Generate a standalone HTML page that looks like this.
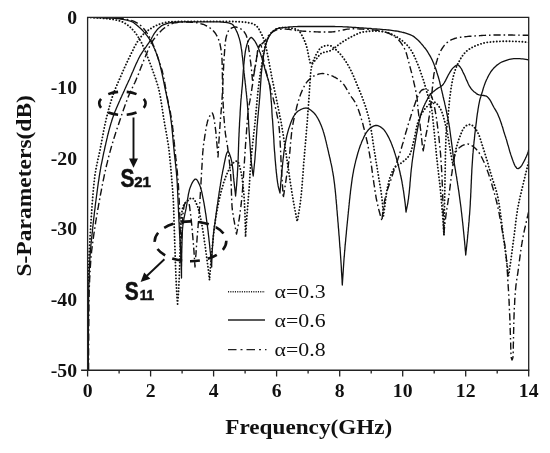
<!DOCTYPE html><html><head><meta charset="utf-8"><title>S-Parameters</title><style>html,body{margin:0;padding:0;background:#fff}svg{display:block;filter:blur(0.35px)}</style></head><body><svg width="550" height="453" viewBox="0 0 550 453">
<rect width="550" height="453" fill="#fff"/>
<clipPath id="c"><rect x="87.6" y="17.4" width="441.1" height="352.8"/></clipPath>
<g clip-path="url(#c)" fill="none" stroke="#111" stroke-width="1.3" stroke-linejoin="round">
<path d="M87.6,17.4L89.1,17.4L90.6,17.5L92.1,17.5L93.7,17.6L95.2,17.7L96.7,17.8L98.2,17.9L99.7,18.0L101.2,18.2L102.7,18.3L104.2,18.4L105.7,18.6L107.2,18.7L108.7,18.9L110.3,19.1L111.8,19.3L113.3,19.5L114.8,19.8L116.3,20.1L117.7,20.4L119.2,20.8L120.5,21.2L121.9,21.7L123.3,22.3L124.7,23.1L126.0,23.9L127.3,24.8L128.5,25.8L129.6,26.7L130.7,27.6L131.8,28.7L132.8,29.8L133.8,30.9L134.8,32.1L135.7,33.3L136.6,34.6L137.5,35.9L138.3,37.2L139.1,38.5L139.9,39.8L140.6,41.1L141.3,42.4L142.0,43.7L142.6,45.1L143.3,46.4L143.9,47.8L144.5,49.2L145.1,50.6L145.6,52.0L146.2,53.5L146.8,54.9L147.3,56.3L147.9,57.7L148.4,59.1L149.0,60.5L149.5,61.9L150.1,63.3L150.6,64.7L151.2,66.1L151.7,67.6L152.2,69.0L152.7,70.4L153.2,71.8L153.7,73.3L154.2,74.7L154.7,76.1L155.2,77.5L155.7,79.0L156.1,80.4L156.6,81.9L157.1,83.3L157.5,84.7L158.0,86.2L158.4,87.6L158.8,89.1L159.1,90.6L159.4,92.0L159.7,93.5L160.0,95.0L160.3,96.5L160.6,97.9L160.8,99.4L161.1,100.9L161.3,102.4L161.5,103.9L161.8,105.4L162.0,106.9L162.2,108.4L162.4,109.9L162.7,111.4L162.9,112.9L163.1,114.4L163.3,115.9L163.6,117.4L163.8,118.9L164.1,120.4L164.3,121.9L164.6,123.3L164.8,124.8L165.1,126.3L165.4,127.8L165.6,129.3L165.9,130.8L166.2,132.3L166.5,133.8L166.7,135.3L167.0,136.7L167.2,138.2L167.5,139.7L167.7,141.2L168.0,142.7L168.2,144.2L168.4,145.7L168.6,147.2L168.8,148.7L169.0,150.2L169.2,151.7L169.4,153.2L169.5,154.7L169.7,156.2L169.8,157.7L170.0,159.2L170.1,160.7L170.3,162.2L170.4,163.7L170.6,165.2L170.7,166.7L170.8,168.2L170.9,169.7L171.1,171.2L171.2,172.7L171.3,174.2L171.5,175.7L171.6,177.3L171.7,178.8L171.8,180.3L171.9,181.8L172.1,183.3L172.2,184.8L172.3,186.3L172.5,187.8L172.6,189.3L172.7,190.8L172.8,192.3L172.9,193.8L173.0,195.3L173.1,196.8L173.2,198.3L173.3,199.9L173.4,201.4L173.4,202.9L173.5,204.4L173.6,205.9L173.6,207.4L173.7,208.9L173.7,210.4L173.8,211.9L173.8,213.4L173.9,214.9L173.9,216.5L174.0,218.0L174.0,219.5L174.0,221.0L174.1,222.5L174.1,224.0L174.2,225.5L174.2,227.0L174.3,228.5L174.3,230.0L174.4,231.6L174.4,233.1L174.5,234.6L174.5,236.1L174.6,237.6L174.6,239.1L174.7,240.6L174.7,242.1L174.8,243.6L174.8,245.2L174.9,246.7L174.9,248.2L175.0,249.7L175.0,251.2L175.1,252.7L175.1,254.2L175.2,255.7L175.2,257.2L175.3,258.7L175.3,260.3L175.4,261.8L175.4,263.3L175.5,264.8L175.5,266.3L175.6,267.8L175.7,269.3L175.7,270.8L175.8,272.3L175.8,273.8L175.9,275.3L176.0,276.9L176.0,278.4L176.1,279.9L176.2,281.4L176.2,282.9L176.3,284.4L176.4,285.9L176.5,287.4L176.5,288.9L176.6,290.4L176.7,291.9L176.8,293.5L176.9,295.0L177.0,296.5L177.1,298.0L177.2,299.5L177.3,301.0L177.5,302.5L177.6,304.0L177.7,302.5L177.8,301.0L178.0,299.5L178.1,298.0L178.2,296.5L178.3,295.0L178.4,293.4L178.5,291.9L178.6,290.4L178.7,288.9L178.7,287.4L178.8,285.9L178.9,284.4L179.0,282.9L179.0,281.4L179.1,279.9L179.2,278.3L179.2,276.8L179.3,275.3L179.4,273.8L179.4,272.3L179.5,270.8L179.5,269.3L179.6,267.8L179.6,266.3L179.7,264.7L179.7,263.2L179.8,261.7L179.8,260.2L179.9,258.7L179.9,257.2L179.9,255.7L180.0,254.2L180.0,252.7L180.1,251.1L180.1,249.6L180.1,248.1L180.2,246.6L180.2,245.1L180.3,243.6L180.3,242.1L180.4,240.6L180.4,239.1L180.5,237.5L180.5,236.0L180.6,234.5L180.6,233.0L180.6,231.5L180.7,230.0L180.7,228.5L180.8,226.9L180.8,225.4L180.9,223.9L181.0,222.4L181.0,220.9L181.1,219.4L181.2,217.9L181.3,216.4L181.5,214.9L181.7,213.3L181.9,211.8L182.2,210.3L182.5,208.8L182.9,207.4L183.3,206.1L184.0,204.7L184.9,203.3L185.8,202.1L186.9,201.0L188.0,200.0L189.3,199.1L190.8,198.3L192.0,198.0L193.1,198.4L194.1,199.4L195.1,200.9L195.9,202.5L196.6,204.1L197.2,205.5L197.7,206.8L198.2,208.2L198.6,209.7L199.0,211.1L199.4,212.6L199.8,214.1L200.1,215.6L200.4,217.1L200.7,218.6L201.0,220.1L201.3,221.6L201.6,223.1L201.9,224.6L202.1,226.1L202.4,227.5L202.6,229.0L202.9,230.5L203.1,232.0L203.3,233.5L203.6,235.0L203.8,236.5L204.0,238.0L204.2,239.5L204.4,241.0L204.6,242.5L204.9,244.0L205.1,245.5L205.3,247.0L205.5,248.5L205.7,250.0L205.9,251.5L206.1,253.0L206.3,254.5L206.5,256.0L206.7,257.5L206.9,259.0L207.1,260.5L207.3,262.0L207.5,263.5L207.7,265.0L207.9,266.5L208.1,268.0L208.3,269.5L208.5,271.0L208.6,272.5L208.8,274.0L209.0,275.5L209.2,277.0L209.3,278.5L209.5,280.0L209.6,278.5L209.7,277.0L209.8,275.5L209.9,273.9L210.1,272.4L210.2,270.9L210.3,269.4L210.4,267.9L210.5,266.4L210.7,264.9L210.8,263.4L210.9,261.8L211.1,260.3L211.2,258.8L211.3,257.3L211.5,255.8L211.6,254.3L211.7,252.8L211.9,251.3L212.0,249.8L212.2,248.2L212.3,246.7L212.5,245.2L212.6,243.7L212.8,242.2L212.9,240.7L213.1,239.2L213.2,237.7L213.4,236.2L213.6,234.7L213.7,233.1L213.9,231.6L214.1,230.1L214.3,228.6L214.5,227.1L214.6,225.6L214.8,224.1L215.1,222.6L215.3,221.1L215.5,219.6L215.7,218.1L216.0,216.6L216.2,215.1L216.5,213.6L216.7,212.1L217.0,210.6L217.3,209.1L217.6,207.6L217.9,206.1L218.2,204.7L218.5,203.2L218.8,201.7L219.1,200.2L219.4,198.7L219.8,197.3L220.1,195.8L220.5,194.3L220.8,192.8L221.2,191.4L221.6,189.9L222.0,188.4L222.4,187.0L222.9,185.5L223.3,184.0L223.7,182.6L224.2,181.2L224.7,179.7L225.2,178.3L225.7,176.9L226.3,175.4L226.9,174.0L227.5,172.6L228.1,171.3L228.7,169.9L229.4,168.5L230.1,167.1L230.9,165.7L231.7,164.4L232.7,163.3L233.8,162.4L235.4,161.5L236.7,161.0L237.6,161.3L238.3,162.3L238.9,164.0L239.4,165.8L239.9,167.5L240.3,169.0L240.6,170.5L241.0,171.9L241.3,173.4L241.6,174.9L241.8,176.4L242.1,177.9L242.3,179.4L242.5,180.9L242.7,182.5L242.9,184.0L243.0,185.5L243.2,187.0L243.3,188.5L243.5,190.0L243.6,191.5L243.7,193.0L243.9,194.5L244.0,196.0L244.1,197.6L244.2,199.1L244.3,200.6L244.4,202.1L244.5,203.6L244.6,205.1L244.6,206.7L244.7,208.2L244.8,209.7L244.9,211.2L244.9,212.7L245.0,214.2L245.0,215.8L245.1,217.3L245.1,218.8L245.2,220.3L245.2,221.8L245.3,223.3L245.3,224.9L245.3,226.4L245.4,227.9L245.4,229.4L245.4,230.9L245.5,232.4L245.5,234.0L245.5,235.5L245.5,237.0L245.6,235.5L245.7,234.0L245.8,232.5L245.9,231.0L246.0,229.5L246.1,228.0L246.2,226.5L246.3,225.0L246.4,223.5L246.5,222.0L246.6,220.5L246.7,218.9L246.8,217.4L246.9,215.9L247.0,214.4L247.2,212.9L247.3,211.4L247.4,209.9L247.5,208.4L247.6,206.9L247.8,205.4L247.9,203.9L248.0,202.4L248.1,200.9L248.3,199.4L248.4,197.9L248.5,196.4L248.6,194.9L248.7,193.4L248.9,191.9L249.0,190.4L249.1,188.9L249.2,187.4L249.3,185.9L249.4,184.4L249.5,182.9L249.6,181.4L249.7,179.9L249.8,178.4L249.9,176.8L249.9,175.3L250.0,173.8L250.1,172.3L250.2,170.8L250.3,169.3L250.4,167.8L250.5,166.3L250.6,164.8L250.7,163.3L250.9,161.8L251.0,160.3L251.1,158.8L251.2,157.3L251.4,155.8L251.5,154.3L251.7,152.8L251.8,151.3L252.0,149.8L252.1,148.3L252.3,146.8L252.5,145.3L252.6,143.8L252.8,142.3L253.0,140.8L253.1,139.3L253.3,137.8L253.5,136.3L253.7,134.8L253.8,133.3L254.0,131.8L254.2,130.3L254.3,128.8L254.5,127.3L254.7,125.8L254.8,124.3L255.0,122.8L255.1,121.3L255.3,119.8L255.4,118.3L255.6,116.8L255.7,115.3L255.8,113.8L256.0,112.3L256.1,110.8L256.2,109.3L256.4,107.8L256.5,106.3L256.7,104.8L256.8,103.3L256.9,101.8L257.1,100.3L257.2,98.8L257.4,97.3L257.5,95.8L257.7,94.3L257.8,92.8L258.0,91.3L258.2,89.8L258.3,88.3L258.5,86.8L258.7,85.3L258.9,83.8L259.1,82.3L259.3,80.8L259.5,79.3L259.7,77.8L259.9,76.4L260.1,74.9L260.4,73.4L260.6,71.9L260.8,70.4L261.1,68.9L261.3,67.4L261.6,65.9L261.8,64.4L262.1,63.0L262.3,61.5L262.6,60.0L262.8,58.5L263.1,57.0L263.3,55.5L263.6,54.0L263.8,52.5L264.1,51.0L264.4,49.5L264.7,48.0L265.0,46.6L265.4,45.1L265.8,43.7L266.2,42.3L266.7,40.8L267.3,39.4L267.9,37.9L268.6,36.5L269.4,35.2L270.2,34.0L271.1,32.9L272.1,31.9L273.3,30.9L274.6,30.0L275.9,29.1L277.4,28.5L278.8,28.0L280.2,27.8L281.7,27.6L283.2,27.5L284.8,27.5L286.3,27.6L287.8,27.8L289.3,27.9L290.8,28.1L292.2,28.4L293.7,28.7L295.2,29.0L296.7,29.4L297.9,30.0L299.0,31.0L300.0,32.2L300.9,33.6L301.7,35.0L302.4,36.2L303.1,37.6L303.7,38.9L304.4,40.3L304.9,41.7L305.5,43.2L306.0,44.6L306.4,46.1L306.9,47.5L307.2,48.9L307.6,50.4L307.9,51.9L308.1,53.4L308.4,54.9L308.7,56.4L309.0,57.8L309.3,59.3L309.7,60.9L310.2,62.7L310.8,63.9L311.6,63.7L312.8,62.7L314.1,61.5L315.2,60.4L316.2,59.2L317.2,57.9L318.2,56.6L319.1,55.4L320.2,54.3L321.2,53.4L322.4,52.8L323.8,52.4L325.3,52.0L326.8,51.7L328.4,51.3L329.8,50.9L331.1,50.3L332.4,49.6L333.6,48.7L334.8,47.8L336.0,46.8L337.2,45.9L338.4,44.9L339.6,43.9L340.9,43.1L342.1,42.3L343.4,41.4L344.7,40.6L346.0,39.8L347.3,39.1L348.6,38.3L349.9,37.6L351.2,36.9L352.6,36.2L353.9,35.5L355.3,34.8L356.7,34.2L358.1,33.5L359.5,32.9L360.9,32.5L362.3,32.1L363.8,31.9L365.3,31.7L366.8,31.5L368.3,31.3L369.8,31.2L371.3,31.1L372.8,31.0L374.3,31.0L375.8,31.0L377.4,31.1L378.9,31.2L380.4,31.4L381.9,31.6L383.4,31.8L384.8,32.0L386.3,32.3L387.7,32.7L389.2,33.2L390.6,33.7L392.0,34.4L393.4,35.1L394.7,35.8L396.0,36.5L397.3,37.2L398.6,38.0L399.8,38.9L401.1,39.8L402.3,40.7L403.5,41.7L404.6,42.7L405.7,43.7L406.8,44.8L407.8,45.9L408.8,47.0L409.7,48.2L410.6,49.5L411.4,50.7L412.2,52.0L412.9,53.3L413.6,54.7L414.2,56.0L414.9,57.4L415.5,58.8L416.1,60.2L416.6,61.6L417.2,63.0L417.8,64.4L418.3,65.8L418.9,67.2L419.4,68.6L419.9,70.0L420.4,71.4L420.9,72.9L421.4,74.3L421.9,75.7L422.4,77.1L422.9,78.6L423.4,80.0L423.8,81.4L424.3,82.9L424.7,84.3L425.1,85.8L425.6,87.2L426.0,88.7L426.3,90.1L426.7,91.6L427.1,93.0L427.6,94.5L428.0,95.9L428.5,97.4L429.0,98.8L429.5,100.2L430.0,101.6L430.5,103.1L430.9,104.5L431.2,106.0L431.4,107.4L431.7,108.9L431.9,110.4L432.1,111.9L432.3,113.4L432.5,114.9L432.6,116.4L432.8,117.9L432.9,119.4L433.1,120.9L433.2,122.4L433.4,123.9L433.5,125.4L433.7,126.9L433.8,128.4L434.0,129.9L434.2,131.4L434.3,132.9L434.5,134.4L434.6,135.9L434.8,137.4L434.9,138.9L435.1,140.4L435.2,141.9L435.4,143.4L435.5,144.9L435.7,146.4L435.8,147.9L435.9,149.4L436.1,151.0L436.2,152.5L436.4,154.0L436.5,155.5L436.7,157.0L436.8,158.5L437.0,160.0L437.2,161.5L437.3,162.9L437.5,164.4L437.7,165.9L437.8,167.4L438.0,168.9L438.2,170.4L438.4,171.9L438.5,173.4L438.7,174.9L438.9,176.4L439.1,177.9L439.3,179.4L439.4,180.9L439.6,182.4L439.8,183.9L439.9,185.4L440.1,186.9L440.2,188.4L440.4,189.9L440.5,191.4L440.7,192.9L440.8,194.4L441.0,195.9L441.1,197.4L441.2,198.9L441.4,200.4L441.5,201.9L441.6,203.4L441.8,204.9L441.9,206.4L442.0,207.9L442.1,209.4L442.3,210.9L442.4,212.4L442.5,213.9L442.6,215.4L442.8,216.9L442.9,218.4L443.0,220.0L443.1,221.5L443.2,223.0L443.3,224.5L443.4,226.0L443.5,227.5L443.6,229.0L443.7,230.5L443.8,232.0L443.9,233.5L444.0,235.0L444.0,233.5L444.0,232.0L444.1,230.5L444.1,229.0L444.1,227.4L444.1,225.9L444.2,224.4L444.2,222.9L444.2,221.4L444.2,219.9L444.3,218.4L444.3,216.9L444.3,215.4L444.4,213.9L444.4,212.3L444.4,210.8L444.4,209.3L444.5,207.8L444.5,206.3L444.5,204.8L444.5,203.3L444.6,201.8L444.6,200.3L444.6,198.8L444.7,197.2L444.7,195.7L444.7,194.2L444.7,192.7L444.8,191.2L444.8,189.7L444.8,188.2L444.9,186.7L444.9,185.2L444.9,183.7L445.0,182.1L445.0,180.6L445.0,179.1L445.0,177.6L445.1,176.1L445.1,174.6L445.1,173.1L445.2,171.6L445.2,170.1L445.2,168.6L445.2,167.0L445.3,165.5L445.3,164.0L445.3,162.5L445.3,161.0L445.4,159.5L445.4,158.0L445.4,156.5L445.4,155.0L445.5,153.4L445.5,151.9L445.5,150.4L445.6,148.9L445.6,147.4L445.7,145.9L445.7,144.4L445.8,142.9L445.8,141.4L445.9,139.9L445.9,138.4L446.0,136.8L446.0,135.3L446.1,133.8L446.2,132.3L446.4,130.8L446.5,129.3L446.7,127.8L446.9,126.3L447.1,124.8L447.3,123.3L447.5,121.8L447.6,120.3L447.8,118.8L448.0,117.3L448.1,115.8L448.2,114.3L448.4,112.8L448.5,111.3L448.6,109.8L448.8,108.3L448.9,106.8L449.0,105.3L449.2,103.8L449.3,102.3L449.5,100.8L449.6,99.3L449.8,97.8L450.0,96.3L450.2,94.8L450.4,93.3L450.6,91.8L450.8,90.3L451.0,88.8L451.2,87.3L451.5,85.8L451.7,84.3L452.0,82.8L452.3,81.3L452.6,79.8L452.9,78.3L453.2,76.9L453.6,75.4L454.0,74.0L454.4,72.5L454.8,71.1L455.3,69.7L455.9,68.2L456.4,66.8L457.1,65.4L457.7,64.0L458.4,62.7L459.1,61.4L459.8,60.1L460.6,58.7L461.4,57.4L462.2,56.1L463.2,54.9L464.1,53.7L465.1,52.6L466.1,51.6L467.2,50.6L468.4,49.7L469.7,48.9L471.0,48.0L472.4,47.3L473.7,46.6L475.1,46.0L476.5,45.4L477.9,44.9L479.3,44.4L480.8,43.9L482.2,43.5L483.7,43.1L485.2,42.7L486.7,42.5L488.2,42.3L489.7,42.1L491.2,42.0L492.7,41.8L494.2,41.7L495.7,41.6L497.2,41.5L498.7,41.4L500.2,41.3L501.7,41.3L503.3,41.2L504.8,41.2L506.3,41.2L507.8,41.2L509.3,41.2L510.8,41.2L512.3,41.3L513.8,41.3L515.3,41.4L516.8,41.4L518.3,41.5L519.8,41.6L521.4,41.7L522.9,41.8L524.4,41.9L525.9,42.1L527.4,42.2L528.9,42.4" stroke-dasharray="0.1 3.1" stroke-width="1.85" stroke-linecap="round"/>
<path d="M88.0,370.0L88.0,368.5L88.0,367.0L88.0,365.5L88.0,364.0L88.0,362.5L88.0,361.0L88.0,359.5L88.0,358.0L88.0,356.5L88.0,355.0L88.0,353.5L88.0,352.0L88.0,350.5L88.0,348.9L88.0,347.4L88.0,345.9L88.0,344.4L88.0,342.9L88.0,341.4L88.0,339.9L88.0,338.4L88.0,336.9L88.1,335.4L88.1,333.9L88.1,332.4L88.1,330.9L88.1,329.4L88.1,327.9L88.1,326.4L88.1,324.9L88.1,323.4L88.1,321.9L88.1,320.4L88.1,318.9L88.1,317.4L88.1,315.9L88.1,314.4L88.1,312.9L88.1,311.4L88.2,309.9L88.2,308.3L88.2,306.8L88.2,305.3L88.2,303.8L88.2,302.3L88.2,300.8L88.2,299.3L88.2,297.8L88.2,296.3L88.2,294.8L88.3,293.3L88.3,291.8L88.3,290.3L88.3,288.8L88.3,287.3L88.4,285.8L88.4,284.3L88.4,282.8L88.5,281.3L88.5,279.8L88.5,278.3L88.6,276.8L88.6,275.3L88.6,273.8L88.7,272.3L88.7,270.8L88.7,269.3L88.8,267.8L88.8,266.3L88.9,264.7L88.9,263.2L88.9,261.7L89.0,260.2L89.0,258.7L89.1,257.2L89.1,255.7L89.2,254.2L89.3,252.7L89.3,251.2L89.4,249.7L89.5,248.2L89.6,246.7L89.6,245.2L89.7,243.7L89.8,242.2L89.9,240.7L90.0,239.2L90.1,237.7L90.1,236.2L90.2,234.7L90.3,233.2L90.4,231.7L90.5,230.2L90.6,228.7L90.7,227.2L90.7,225.7L90.8,224.2L90.9,222.7L91.0,221.2L91.1,219.7L91.2,218.2L91.3,216.7L91.4,215.2L91.5,213.7L91.6,212.2L91.7,210.7L91.8,209.2L91.9,207.7L92.0,206.2L92.1,204.7L92.2,203.2L92.4,201.7L92.5,200.2L92.6,198.7L92.7,197.2L92.9,195.7L93.0,194.2L93.1,192.7L93.2,191.2L93.4,189.7L93.5,188.2L93.7,186.7L93.8,185.2L94.0,183.7L94.1,182.2L94.3,180.7L94.5,179.2L94.6,177.7L94.8,176.3L95.0,174.8L95.2,173.3L95.5,171.8L95.7,170.3L96.0,168.8L96.3,167.4L96.6,165.9L96.9,164.4L97.2,162.9L97.5,161.5L97.8,160.0L98.2,158.5L98.5,157.1L98.8,155.6L99.1,154.1L99.5,152.6L99.8,151.2L100.1,149.7L100.4,148.2L100.6,146.7L100.9,145.3L101.2,143.8L101.5,142.3L101.8,140.8L102.0,139.4L102.3,137.9L102.6,136.4L102.9,134.9L103.2,133.4L103.5,132.0L103.7,130.5L104.0,129.0L104.3,127.5L104.7,126.1L105.0,124.6L105.3,123.1L105.6,121.7L106.0,120.2L106.3,118.7L106.6,117.3L107.0,115.8L107.4,114.4L107.7,112.9L108.1,111.4L108.5,110.0L108.9,108.5L109.3,107.1L109.7,105.6L110.1,104.2L110.5,102.7L111.0,101.3L111.4,99.9L111.9,98.4L112.3,97.0L112.8,95.6L113.3,94.2L113.8,92.8L114.3,91.3L114.9,90.0L115.4,88.6L116.0,87.2L116.6,85.8L117.2,84.4L117.8,83.0L118.4,81.6L119.0,80.3L119.6,78.9L120.2,77.5L120.8,76.1L121.4,74.7L122.0,73.4L122.6,72.0L123.2,70.6L123.8,69.2L124.4,67.8L125.0,66.5L125.7,65.1L126.3,63.7L126.9,62.4L127.6,61.0L128.2,59.6L128.9,58.3L129.5,56.9L130.2,55.6L130.9,54.3L131.5,52.9L132.2,51.5L132.9,50.1L133.5,48.8L134.2,47.4L134.9,46.0L135.7,44.7L136.4,43.4L137.2,42.1L138.0,40.8L138.8,39.6L139.6,38.5L140.6,37.3L141.5,36.2L142.6,35.1L143.6,34.0L144.8,33.0L145.9,32.0L147.1,31.0L148.4,30.1L149.6,29.3L150.8,28.5L152.1,27.7L153.4,26.9L154.7,26.2L156.1,25.6L157.5,24.9L158.9,24.4L160.3,23.9L161.7,23.4L163.2,23.0L164.6,22.6L166.1,22.3L167.6,22.0L169.1,21.9L170.6,21.8L172.1,21.7L173.6,21.6L175.1,21.6L176.6,21.5L178.1,21.5L179.6,21.5L181.1,21.4L182.6,21.4L184.1,21.4L185.6,21.3L187.1,21.3L188.6,21.3L190.1,21.3L191.6,21.3L193.1,21.3L194.6,21.3L196.2,21.3L197.7,21.3L199.2,21.3L200.7,21.3L202.2,21.3L203.7,21.3L205.2,21.3L206.7,21.3L208.2,21.3L209.7,21.3L211.2,21.3L212.7,21.3L214.2,21.3L215.7,21.3L217.2,21.3L218.7,21.3L220.2,21.3L221.7,21.3L223.2,21.3L224.7,21.3L226.2,21.4L227.7,21.4L229.2,21.4L230.7,21.5L232.2,21.5L233.8,21.6L235.3,21.6L236.8,21.7L238.3,21.7L239.8,21.8L241.3,21.9L242.8,22.0L244.3,22.1L245.8,22.3L247.3,22.5L248.8,22.8L250.2,23.0L251.7,23.4L253.2,24.0L254.6,24.6L255.8,25.4L256.8,26.2L257.8,27.3L258.6,28.6L259.4,30.0L260.2,31.4L260.9,32.8L261.5,34.1L262.2,35.4L262.8,36.8L263.4,38.2L263.9,39.7L264.4,41.1L264.9,42.5L265.3,43.9L265.6,45.4L266.0,46.8L266.3,48.3L266.6,49.8L266.9,51.3L267.2,52.7L267.5,54.2L267.8,55.7L268.1,57.2L268.3,58.7L268.6,60.1L268.9,61.6L269.2,63.1L269.5,64.6L269.8,66.1L270.1,67.5L270.3,69.0L270.6,70.5L270.9,72.0L271.2,73.4L271.4,74.9L271.7,76.4L272.0,77.9L272.3,79.4L272.6,80.8L272.9,82.3L273.2,83.8L273.5,85.2L273.8,86.7L274.1,88.2L274.4,89.7L274.7,91.1L275.0,92.6L275.4,94.1L275.7,95.5L276.0,97.0L276.3,98.5L276.6,100.0L276.9,101.4L277.2,102.9L277.5,104.4L277.8,105.8L278.1,107.3L278.4,108.8L278.7,110.3L279.0,111.7L279.3,113.2L279.6,114.7L279.9,116.2L280.2,117.6L280.5,119.1L280.8,120.6L281.1,122.1L281.3,123.5L281.6,125.0L281.8,126.5L282.1,128.0L282.3,129.5L282.6,131.0L282.8,132.4L283.1,133.9L283.3,135.4L283.5,136.9L283.8,138.4L284.0,139.9L284.2,141.4L284.4,142.8L284.7,144.3L284.9,145.8L285.1,147.3L285.3,148.8L285.5,150.3L285.8,151.8L286.0,153.3L286.2,154.7L286.4,156.2L286.7,157.7L286.9,159.2L287.1,160.7L287.3,162.2L287.6,163.7L287.8,165.1L288.0,166.6L288.2,168.1L288.5,169.6L288.7,171.1L288.9,172.6L289.1,174.1L289.3,175.6L289.6,177.0L289.8,178.5L290.0,180.0L290.2,181.5L290.4,183.0L290.7,184.5L290.9,186.0L291.1,187.5L291.4,188.9L291.6,190.4L291.8,191.9L292.1,193.4L292.3,194.9L292.6,196.4L292.8,197.8L293.1,199.3L293.3,200.8L293.6,202.3L293.8,203.8L294.1,205.3L294.4,206.7L294.6,208.2L294.9,209.7L295.2,211.2L295.5,212.6L295.8,214.1L296.0,215.6L296.3,217.1L296.6,218.5L296.9,220.0L297.2,221.5L297.5,220.0L297.8,218.5L298.0,217.1L298.3,215.6L298.6,214.1L298.8,212.6L299.1,211.1L299.3,209.6L299.6,208.1L299.8,206.6L300.0,205.2L300.2,203.7L300.4,202.2L300.6,200.7L300.8,199.2L300.9,197.7L301.1,196.2L301.3,194.7L301.4,193.2L301.5,191.7L301.7,190.2L301.8,188.7L301.9,187.2L302.1,185.7L302.2,184.2L302.3,182.7L302.4,181.2L302.5,179.7L302.6,178.2L302.7,176.7L302.9,175.2L303.0,173.7L303.1,172.2L303.2,170.7L303.3,169.2L303.4,167.7L303.5,166.2L303.6,164.7L303.7,163.2L303.9,161.7L304.0,160.2L304.1,158.7L304.2,157.2L304.4,155.7L304.5,154.2L304.6,152.7L304.8,151.2L304.9,149.7L305.0,148.2L305.1,146.7L305.3,145.2L305.4,143.7L305.5,142.2L305.7,140.7L305.8,139.2L305.9,137.7L306.0,136.1L306.2,134.6L306.3,133.1L306.4,131.6L306.5,130.1L306.7,128.6L306.8,127.1L306.9,125.6L307.0,124.1L307.1,122.6L307.3,121.1L307.4,119.6L307.5,118.1L307.6,116.6L307.7,115.1L307.8,113.6L307.9,112.1L308.0,110.6L308.1,109.1L308.2,107.6L308.3,106.1L308.5,104.6L308.6,103.1L308.7,101.6L308.8,100.1L308.9,98.6L309.0,97.1L309.1,95.6L309.2,94.1L309.3,92.6L309.4,91.1L309.5,89.6L309.6,88.1L309.7,86.6L309.8,85.1L309.9,83.6L310.0,82.0L310.1,80.5L310.2,79.0L310.3,77.5L310.4,76.0L310.5,74.5L310.7,73.0L310.8,71.5L311.0,70.1L311.2,68.6L311.5,67.1L311.9,65.6L312.3,64.2L312.8,62.7L313.2,61.3L313.7,59.9L314.3,58.5L314.9,57.1L315.5,55.7L316.2,54.4L317.0,53.1L317.8,51.8L318.6,50.4L319.6,49.1L320.6,48.0L321.7,47.1L323.0,46.6L324.4,46.0L326.0,45.6L327.5,45.4L328.9,45.3L330.2,45.6L331.6,46.2L332.9,47.1L334.2,48.1L335.4,49.2L336.6,50.3L337.7,51.4L338.7,52.4L339.8,53.5L340.7,54.6L341.7,55.7L342.6,56.9L343.5,58.1L344.4,59.4L345.3,60.7L346.1,62.0L346.9,63.3L347.7,64.6L348.5,65.9L349.2,67.2L349.9,68.5L350.6,69.8L351.3,71.2L351.9,72.5L352.5,73.9L353.2,75.3L353.8,76.7L354.3,78.1L354.9,79.5L355.5,80.9L356.1,82.3L356.6,83.7L357.2,85.1L357.8,86.5L358.4,87.9L358.9,89.3L359.5,90.7L360.1,92.0L360.7,93.4L361.2,94.8L361.8,96.2L362.4,97.6L362.9,99.1L363.4,100.5L363.9,101.9L364.4,103.3L364.9,104.7L365.4,106.1L365.8,107.6L366.3,109.0L366.7,110.5L367.1,111.9L367.6,113.4L368.0,114.8L368.3,116.3L368.7,117.7L369.1,119.2L369.4,120.7L369.7,122.1L370.0,123.6L370.3,125.1L370.6,126.6L370.8,128.0L371.1,129.5L371.3,131.0L371.6,132.5L371.8,134.0L372.0,135.5L372.3,137.0L372.5,138.5L372.7,140.0L372.9,141.5L373.1,142.9L373.4,144.4L373.6,145.9L373.8,147.4L374.0,148.9L374.3,150.4L374.5,151.9L374.8,153.4L375.0,154.9L375.3,156.3L375.5,157.8L375.7,159.3L376.0,160.8L376.2,162.3L376.5,163.8L376.7,165.3L377.0,166.7L377.2,168.2L377.4,169.7L377.7,171.2L377.9,172.7L378.2,174.2L378.4,175.7L378.6,177.2L378.9,178.6L379.1,180.1L379.4,181.6L379.6,183.1L379.9,184.6L380.1,186.1L380.4,187.6L380.6,189.0L380.9,190.5L381.1,192.0L381.3,193.5L381.5,195.0L381.7,196.5L381.9,198.0L382.1,199.5L382.2,201.0L382.4,202.5L382.5,204.0L382.6,205.5L382.8,207.0L382.9,208.5L383.0,210.0L383.1,211.5L383.2,213.0L383.3,214.5L383.4,216.0L383.6,214.5L383.8,213.0L384.1,211.5L384.3,210.0L384.5,208.5L384.7,207.0L384.9,205.5L385.1,204.0L385.3,202.5L385.5,201.0L385.7,199.5L385.9,198.0L386.1,196.5L386.3,195.0L386.5,193.5L386.7,192.0L386.9,190.5L387.2,189.0L387.5,187.5L387.8,186.0L388.1,184.5L388.5,183.0L388.9,181.4L389.3,179.9L389.7,178.3L390.2,176.8L390.7,175.3L391.2,173.9L391.8,172.5L392.4,171.2L393.1,169.9L393.8,168.8L394.5,167.7L395.6,166.7L396.8,165.8L398.1,165.0L399.4,164.1L400.8,163.3L402.1,162.4L403.3,161.4L404.4,160.4L405.7,159.4L406.8,158.3L407.9,157.2L408.8,156.1L409.6,154.9L410.2,153.6L410.7,152.3L411.2,150.9L411.6,149.4L412.0,147.9L412.4,146.4L412.8,144.9L413.1,143.4L413.5,141.8L413.8,140.3L414.2,138.9L414.5,137.4L414.9,135.9L415.2,134.4L415.5,132.9L415.7,131.4L416.0,129.9L416.3,128.4L416.7,126.9L417.0,125.5L417.4,124.0L417.8,122.6L418.3,121.2L418.8,119.8L419.4,118.3L420.0,116.9L420.7,115.5L421.4,114.1L422.2,112.8L423.0,111.5L423.9,110.3L424.7,109.1L425.7,108.0L426.8,106.8L428.0,105.5L429.2,104.4L430.5,103.3L431.8,102.6L433.1,102.1L434.2,102.0L435.4,102.5L436.6,103.5L437.7,104.8L438.8,106.2L439.7,107.6L440.5,108.9L441.1,110.2L441.7,111.6L442.2,113.0L442.7,114.4L443.2,115.9L443.6,117.4L444.0,118.9L444.4,120.4L444.8,121.9L445.2,123.3L445.5,124.8L445.9,126.3L446.2,127.8L446.5,129.2L446.9,130.7L447.2,132.2L447.5,133.7L447.7,135.2L448.0,136.7L448.3,138.2L448.5,139.6L448.8,141.1L449.0,142.6L449.2,144.1L449.5,145.6L449.7,147.1L449.9,148.6L450.2,150.1L450.5,151.6L450.7,153.1L451.0,154.6L451.3,156.1L451.5,157.6L451.8,159.1L452.1,160.5L452.4,162.0L452.7,163.5L453.0,165.0L453.2,163.5L453.4,162.0L453.6,160.5L453.8,159.0L454.1,157.5L454.4,156.0L454.7,154.5L455.0,153.0L455.4,151.5L455.7,150.1L456.1,148.6L456.5,147.1L456.9,145.7L457.3,144.2L457.7,142.8L458.1,141.3L458.6,139.9L459.2,138.5L459.8,137.0L460.3,135.5L460.9,133.9L461.6,132.4L462.2,130.8L462.9,129.4L463.7,128.2L464.6,127.1L465.5,126.2L466.6,125.5L468.1,124.9L469.6,124.5L470.9,124.7L472.2,125.4L473.5,126.4L474.6,127.7L475.6,129.0L476.4,130.1L477.1,131.3L477.8,132.6L478.4,133.9L479.0,135.3L479.6,136.7L480.1,138.2L480.6,139.7L481.1,141.2L481.5,142.7L482.0,144.2L482.4,145.7L482.9,147.2L483.4,148.6L483.9,150.1L484.3,151.5L484.8,152.9L485.2,154.4L485.7,155.8L486.1,157.3L486.5,158.7L487.0,160.2L487.4,161.6L487.8,163.1L488.2,164.6L488.6,166.0L489.0,167.5L489.4,168.9L489.9,170.4L490.3,171.8L490.7,173.3L491.1,174.8L491.6,176.2L492.1,177.6L492.5,179.1L493.0,180.5L493.5,182.0L493.9,183.4L494.4,184.9L494.9,186.3L495.3,187.8L495.8,189.2L496.2,190.7L496.6,192.1L497.0,193.6L497.4,195.0L497.7,196.5L498.0,198.0L498.3,199.5L498.6,200.9L498.8,202.4L499.1,203.9L499.3,205.4L499.5,206.9L499.8,208.4L500.0,209.9L500.2,211.4L500.4,212.9L500.6,214.4L500.8,215.9L501.0,217.4L501.2,218.9L501.4,220.4L501.6,221.9L501.8,223.4L501.9,224.9L502.1,226.4L502.3,227.9L502.5,229.4L502.7,230.9L502.9,232.5L503.0,234.0L503.2,235.5L503.4,237.0L503.6,238.5L503.8,240.0L504.0,241.5L504.2,243.0L504.4,244.5L504.6,246.0L504.8,247.5L505.0,249.0L505.2,250.5L505.4,252.0L505.6,253.5L505.8,255.0L506.0,256.5L506.2,258.0L506.4,259.5L506.6,261.0L506.8,262.5L507.0,264.0L507.2,265.5L507.4,267.0L507.6,268.5L507.7,270.0L507.9,271.5L508.1,273.0L508.3,274.5L508.5,276.0L508.7,274.5L509.0,273.0L509.2,271.4L509.4,269.9L509.7,268.4L509.9,266.9L510.1,265.4L510.3,263.8L510.6,262.3L510.8,260.8L511.0,259.3L511.2,257.7L511.4,256.2L511.6,254.7L511.8,253.2L512.0,251.6L512.2,250.1L512.4,248.6L512.6,247.1L512.8,245.5L513.0,244.0L513.2,242.5L513.4,241.0L513.6,239.4L513.8,237.9L514.0,236.4L514.2,234.8L514.4,233.3L514.6,231.8L514.8,230.3L515.0,228.7L515.2,227.2L515.4,225.7L515.5,224.2L515.7,222.6L515.9,221.1L516.1,219.6L516.3,218.1L516.5,216.5L516.7,215.0L516.9,213.5L517.2,212.0L517.4,210.4L517.6,208.9L517.9,207.4L518.2,205.9L518.5,204.4L518.8,202.9L519.1,201.4L519.4,199.9L519.8,198.4L520.1,196.9L520.5,195.4L520.8,193.9L521.2,192.4L521.5,190.9L521.9,189.4L522.3,187.9L522.6,186.4L523.0,184.9L523.3,183.4L523.7,181.9L524.0,180.4L524.4,178.9L524.8,177.4L525.1,175.9L525.5,174.4L525.9,172.9L526.2,171.4L526.6,169.9L527.0,168.4L527.4,167.0L527.7,165.5L528.1,164.0L528.5,162.5L528.9,161.0" stroke-dasharray="0.1 3.1" stroke-width="1.85" stroke-linecap="round"/>
<path d="M87.6,17.4L89.1,17.4L90.6,17.4L92.2,17.4L93.7,17.5L95.2,17.5L96.7,17.5L98.2,17.6L99.7,17.6L101.3,17.6L102.8,17.7L104.3,17.8L105.8,17.8L107.3,17.9L108.8,17.9L110.3,18.0L111.8,18.1L113.4,18.2L114.9,18.3L116.4,18.5L118.0,18.7L119.5,18.9L121.1,19.1L122.6,19.4L124.1,19.6L125.6,19.9L127.0,20.2L128.4,20.6L129.8,20.9L131.1,21.4L132.5,22.0L133.8,22.8L135.0,23.7L136.3,24.7L137.5,25.7L138.6,26.8L139.8,27.8L140.9,28.8L141.9,29.8L143.0,30.9L144.0,32.1L145.1,33.2L146.0,34.4L147.0,35.6L147.9,36.8L148.8,38.1L149.6,39.3L150.4,40.6L151.1,41.9L151.8,43.2L152.5,44.5L153.2,45.9L153.8,47.3L154.5,48.7L155.1,50.1L155.7,51.5L156.2,52.9L156.8,54.4L157.3,55.8L157.8,57.2L158.2,58.7L158.6,60.1L159.1,61.5L159.5,63.0L159.9,64.4L160.2,65.9L160.6,67.4L160.9,68.8L161.3,70.3L161.6,71.8L162.0,73.3L162.3,74.8L162.6,76.3L162.9,77.7L163.2,79.2L163.5,80.7L163.8,82.2L164.1,83.7L164.4,85.2L164.7,86.7L165.0,88.2L165.3,89.7L165.7,91.1L166.0,92.6L166.3,94.1L166.6,95.6L166.9,97.1L167.2,98.6L167.5,100.0L167.8,101.5L168.1,103.0L168.4,104.5L168.7,106.0L169.0,107.5L169.3,109.0L169.5,110.5L169.8,111.9L170.0,113.4L170.3,114.9L170.5,116.4L170.7,117.9L170.9,119.4L171.1,120.9L171.3,122.4L171.5,123.9L171.7,125.4L171.8,126.9L172.0,128.4L172.1,129.9L172.3,131.4L172.4,133.0L172.6,134.5L172.7,136.0L172.8,137.5L173.0,139.0L173.1,140.5L173.2,142.0L173.4,143.5L173.5,145.0L173.7,146.5L173.8,148.0L174.0,149.6L174.1,151.1L174.3,152.6L174.4,154.1L174.6,155.6L174.8,157.1L174.9,158.6L175.1,160.1L175.3,161.6L175.4,163.1L175.6,164.6L175.8,166.1L175.9,167.6L176.1,169.1L176.2,170.6L176.4,172.1L176.5,173.7L176.6,175.2L176.8,176.7L176.9,178.2L177.0,179.7L177.1,181.2L177.2,182.7L177.3,184.2L177.3,185.7L177.4,187.2L177.5,188.8L177.6,190.3L177.6,191.8L177.7,193.3L177.8,194.8L177.8,196.3L177.9,197.8L178.0,199.3L178.0,200.9L178.1,202.4L178.2,203.9L178.3,205.4L178.3,206.9L178.4,208.4L178.5,209.9L178.5,211.4L178.6,213.0L178.7,214.5L178.7,216.0L178.8,217.5L178.9,219.0L178.9,220.5L179.0,222.0L179.1,223.5L179.2,225.1L179.2,226.6L179.3,228.1L179.4,229.6L179.5,231.1L179.5,232.6L179.6,234.1L179.7,235.6L179.8,237.2L179.9,238.7L180.0,240.2L180.1,241.7L180.1,243.2L180.2,244.7L180.3,246.2L180.4,247.7L180.5,249.3L180.6,250.8L180.7,252.3L180.7,253.8L180.8,255.3L180.9,256.8L180.9,258.3L181.0,259.8L181.0,261.3L181.1,262.9L181.1,264.4L181.2,265.9L181.2,267.4L181.3,268.9L181.3,270.4L181.4,271.9L181.4,273.5L181.4,275.0L181.5,276.5L181.5,278.0L181.5,276.5L181.5,274.9L181.5,273.4L181.5,271.9L181.5,270.4L181.5,268.8L181.5,267.3L181.6,265.8L181.6,264.2L181.6,262.7L181.6,261.2L181.6,259.7L181.7,258.2L181.7,256.6L181.7,255.1L181.7,253.6L181.8,252.1L181.8,250.6L181.8,249.0L181.9,247.5L181.9,246.0L182.0,244.5L182.0,243.0L182.0,241.5L182.1,240.0L182.1,238.4L182.2,236.9L182.2,235.4L182.3,233.9L182.3,232.4L182.4,230.9L182.5,229.4L182.6,227.9L182.8,226.4L182.9,224.9L183.2,223.4L183.4,221.9L183.7,220.4L183.9,218.9L184.2,217.4L184.5,215.9L184.8,214.4L185.1,212.9L185.5,211.4L185.8,209.9L186.1,208.4L186.3,206.9L186.6,205.4L186.9,203.9L187.1,202.4L187.3,200.8L187.6,199.3L187.8,197.8L188.1,196.3L188.3,194.8L188.6,193.3L189.0,191.8L189.3,190.3L189.7,188.9L190.2,187.5L190.8,185.9L191.5,184.2L192.3,182.6L193.3,181.0L194.2,179.9L195.1,179.1L195.9,179.1L196.8,179.7L197.7,181.0L198.5,182.6L199.3,184.3L200.0,185.9L200.5,187.3L200.9,188.7L201.3,190.2L201.7,191.7L202.0,193.2L202.3,194.7L202.6,196.2L202.9,197.7L203.2,199.2L203.5,200.6L203.8,202.1L204.1,203.6L204.3,205.1L204.6,206.6L204.8,208.1L205.1,209.6L205.3,211.1L205.5,212.6L205.8,214.1L206.0,215.6L206.2,217.2L206.4,218.7L206.6,220.2L206.8,221.7L207.0,223.2L207.2,224.7L207.4,226.2L207.6,227.7L207.8,229.2L208.0,230.7L208.2,232.2L208.3,233.7L208.5,235.2L208.7,236.8L208.9,238.3L209.0,239.8L209.2,241.3L209.4,242.8L209.5,244.3L209.7,245.8L209.8,247.3L210.0,248.8L210.1,250.4L210.3,251.9L210.5,253.4L210.6,254.9L210.7,256.4L210.9,257.9L211.0,259.4L211.2,260.9L211.3,262.5L211.4,264.0L211.6,265.5L211.7,267.0L211.7,265.5L211.7,264.0L211.8,262.4L211.8,260.9L211.9,259.4L211.9,257.9L212.0,256.4L212.1,254.9L212.1,253.4L212.2,251.8L212.3,250.3L212.4,248.8L212.5,247.3L212.6,245.8L212.7,244.3L212.8,242.8L212.9,241.3L213.0,239.8L213.1,238.3L213.2,236.7L213.4,235.2L213.5,233.7L213.7,232.2L213.9,230.7L214.0,229.2L214.2,227.7L214.4,226.2L214.7,224.7L214.9,223.2L215.1,221.7L215.3,220.2L215.5,218.7L215.7,217.2L215.9,215.7L216.1,214.2L216.3,212.7L216.5,211.2L216.7,209.7L216.9,208.2L217.1,206.7L217.3,205.2L217.6,203.7L217.8,202.2L218.0,200.7L218.2,199.2L218.4,197.7L218.7,196.2L218.9,194.7L219.1,193.2L219.3,191.7L219.6,190.2L219.8,188.7L220.0,187.2L220.3,185.7L220.5,184.2L220.7,182.7L221.0,181.2L221.2,179.7L221.5,178.2L221.7,176.7L222.0,175.2L222.3,173.7L222.5,172.3L222.8,170.8L223.1,169.3L223.5,167.6L223.8,165.8L224.2,163.9L224.6,161.9L225.0,160.0L225.4,158.2L225.8,156.4L226.2,154.9L226.6,153.6L227.1,152.5L227.5,151.9L227.9,151.6L228.4,151.9L229.0,152.7L229.5,154.0L230.1,155.7L230.7,157.5L231.2,159.4L231.6,161.2L232.0,162.9L232.2,164.3L232.4,165.8L232.6,167.3L232.8,168.8L233.0,170.3L233.1,171.8L233.2,173.4L233.4,174.9L233.5,176.4L233.6,177.9L233.8,179.4L233.9,180.9L234.1,182.4L234.3,184.0L234.4,185.5L234.6,187.0L234.8,188.5L234.9,190.0L235.1,191.5L235.3,193.0L235.4,194.5L235.6,196.0L235.7,194.5L235.9,193.0L236.0,191.5L236.2,190.0L236.3,188.5L236.4,187.0L236.6,185.5L236.7,183.9L236.8,182.4L236.9,180.9L237.0,179.4L237.1,177.9L237.3,176.4L237.4,174.9L237.4,173.4L237.5,171.9L237.6,170.4L237.7,168.9L237.8,167.4L237.9,165.8L237.9,164.3L238.0,162.8L238.0,161.3L238.1,159.8L238.2,158.3L238.2,156.8L238.3,155.3L238.3,153.8L238.4,152.2L238.4,150.7L238.5,149.2L238.5,147.7L238.6,146.2L238.6,144.7L238.7,143.2L238.7,141.7L238.8,140.2L238.8,138.6L238.9,137.1L239.0,135.6L239.0,134.1L239.1,132.6L239.2,131.1L239.2,129.6L239.3,128.1L239.4,126.6L239.5,125.0L239.5,123.5L239.6,122.0L239.7,120.5L239.8,119.0L239.9,117.5L240.0,116.0L240.1,114.5L240.1,113.0L240.2,111.5L240.3,109.9L240.4,108.4L240.5,106.9L240.6,105.4L240.7,103.9L240.8,102.4L240.9,100.9L241.0,99.4L241.2,97.9L241.3,96.4L241.4,94.9L241.6,93.4L241.7,91.9L241.8,90.3L242.0,88.8L242.1,87.3L242.3,85.8L242.4,84.3L242.5,82.8L242.6,81.3L242.7,79.8L242.8,78.3L242.9,76.8L243.0,75.3L243.1,73.8L243.2,72.3L243.3,70.7L243.5,69.2L243.6,67.7L243.7,66.2L243.8,64.7L244.0,63.2L244.1,61.7L244.3,60.2L244.4,58.7L244.6,57.2L244.8,55.7L245.0,54.2L245.2,52.7L245.4,51.2L245.7,49.7L246.0,48.2L246.4,46.7L246.7,45.2L247.2,43.8L247.7,42.4L248.3,40.9L249.2,39.3L250.2,38.0L251.2,37.4L252.2,38.0L253.4,39.3L254.4,40.5L255.2,41.7L256.0,43.1L256.7,44.4L257.3,45.8L258.0,47.1L258.5,48.5L259.1,49.9L259.6,51.4L260.2,52.8L260.7,54.2L261.1,55.7L261.6,57.1L262.1,58.5L262.5,60.0L262.9,61.4L263.3,62.9L263.7,64.4L264.1,65.8L264.5,67.3L264.9,68.8L265.3,70.2L265.7,71.7L266.1,73.1L266.6,74.6L267.0,76.0L267.5,77.5L268.0,78.9L268.4,80.4L268.8,81.8L269.2,83.3L269.5,84.8L269.8,86.2L269.9,87.7L270.1,89.2L270.3,90.7L270.5,92.2L270.6,93.7L270.8,95.2L270.9,96.7L271.0,98.2L271.1,99.7L271.2,101.2L271.4,102.7L271.5,104.3L271.6,105.8L271.7,107.3L271.8,108.8L271.9,110.3L271.9,111.8L272.0,113.3L272.1,114.9L272.2,116.4L272.3,117.9L272.5,119.4L272.6,120.9L272.7,122.4L272.8,123.9L272.9,125.4L273.0,126.9L273.1,128.5L273.2,130.0L273.3,131.5L273.4,133.0L273.5,134.5L273.6,136.0L273.7,137.5L273.8,139.0L273.9,140.5L273.9,142.0L274.0,143.5L274.1,145.1L274.2,146.6L274.3,148.1L274.4,149.6L274.5,151.1L274.7,152.6L274.8,154.1L274.9,155.6L275.0,157.1L275.1,158.6L275.2,160.1L275.4,161.6L275.5,163.1L275.6,164.7L275.8,166.2L275.9,167.7L276.0,169.2L276.2,170.7L276.3,172.2L276.5,173.7L276.7,175.2L276.8,176.7L277.0,178.2L277.2,179.7L277.4,181.2L277.6,182.7L277.9,184.2L278.1,185.7L278.4,187.1L278.8,188.6L279.2,190.1L279.6,191.5L280.0,193.0L280.1,191.5L280.2,190.0L280.3,188.5L280.5,187.0L280.6,185.4L280.7,183.9L280.8,182.4L281.0,180.9L281.1,179.4L281.2,177.9L281.4,176.4L281.5,174.9L281.7,173.4L281.8,171.9L282.0,170.4L282.1,168.9L282.3,167.3L282.4,165.8L282.6,164.3L282.7,162.8L282.9,161.3L283.0,159.8L283.2,158.3L283.4,156.8L283.6,155.3L283.7,153.8L283.9,152.3L284.1,150.8L284.3,149.3L284.6,147.8L284.8,146.3L285.0,144.8L285.3,143.3L285.6,141.8L285.9,140.3L286.2,138.8L286.5,137.3L286.8,135.8L287.2,134.4L287.6,132.9L288.0,131.4L288.4,129.9L288.8,128.5L289.3,127.1L289.8,125.7L290.3,124.3L290.8,122.8L291.4,121.3L292.0,119.8L292.7,118.3L293.4,116.9L294.2,115.5L295.0,114.3L295.9,113.1L296.8,112.2L297.8,111.3L299.1,110.5L300.5,109.7L302.0,109.0L303.5,108.4L305.0,108.1L306.4,108.0L307.8,108.4L309.2,109.1L310.6,110.0L311.8,111.0L313.0,112.0L314.0,112.9L314.9,114.0L315.8,115.2L316.7,116.5L317.5,117.8L318.3,119.2L319.0,120.6L319.7,122.0L320.3,123.4L320.9,124.8L321.5,126.2L322.0,127.6L322.5,129.0L323.0,130.4L323.4,131.9L323.9,133.3L324.3,134.8L324.7,136.2L325.1,137.7L325.4,139.2L325.8,140.7L326.2,142.2L326.5,143.7L326.9,145.2L327.2,146.7L327.6,148.1L327.9,149.6L328.3,151.1L328.6,152.6L328.9,154.0L329.3,155.5L329.6,157.0L330.0,158.5L330.3,160.0L330.6,161.4L330.9,162.9L331.3,164.4L331.6,165.9L331.9,167.4L332.2,168.9L332.4,170.4L332.7,171.8L333.0,173.3L333.2,174.8L333.5,176.3L333.7,177.8L333.9,179.3L334.1,180.8L334.3,182.3L334.5,183.8L334.7,185.3L334.8,186.8L335.0,188.3L335.2,189.8L335.3,191.3L335.5,192.8L335.6,194.3L335.8,195.8L335.9,197.4L336.0,198.9L336.2,200.4L336.3,201.9L336.4,203.4L336.6,204.9L336.7,206.4L336.8,207.9L336.9,209.4L337.1,211.0L337.2,212.5L337.3,214.0L337.4,215.5L337.6,217.0L337.7,218.5L337.8,220.0L337.9,221.5L338.1,223.0L338.2,224.5L338.3,226.1L338.4,227.6L338.6,229.1L338.7,230.6L338.8,232.1L338.9,233.6L339.0,235.1L339.2,236.6L339.3,238.1L339.4,239.7L339.5,241.2L339.6,242.7L339.7,244.2L339.8,245.7L339.9,247.2L340.1,248.7L340.2,250.2L340.3,251.7L340.4,253.2L340.5,254.8L340.6,256.3L340.7,257.8L340.8,259.3L340.9,260.8L341.0,262.3L341.1,263.8L341.2,265.3L341.3,266.9L341.4,268.4L341.4,269.9L341.5,271.4L341.6,272.9L341.7,274.4L341.8,275.9L341.9,277.4L342.0,278.9L342.1,280.5L342.1,282.0L342.2,283.5L342.3,285.0L342.4,283.5L342.5,282.0L342.6,280.5L342.7,278.9L342.8,277.4L342.9,275.9L343.0,274.4L343.1,272.9L343.2,271.4L343.3,269.9L343.4,268.3L343.5,266.8L343.6,265.3L343.7,263.8L343.8,262.3L343.9,260.8L344.0,259.3L344.1,257.8L344.3,256.2L344.4,254.7L344.5,253.2L344.6,251.7L344.8,250.2L344.9,248.7L345.0,247.2L345.1,245.7L345.3,244.2L345.4,242.6L345.6,241.1L345.7,239.6L345.8,238.1L346.0,236.6L346.1,235.1L346.3,233.6L346.4,232.1L346.5,230.6L346.7,229.0L346.8,227.5L347.0,226.0L347.1,224.5L347.3,223.0L347.4,221.5L347.6,220.0L347.7,218.5L347.9,217.0L348.0,215.5L348.2,213.9L348.3,212.4L348.5,210.9L348.6,209.4L348.8,207.9L348.9,206.4L349.1,204.9L349.2,203.4L349.4,201.9L349.5,200.4L349.7,198.8L349.9,197.3L350.0,195.8L350.2,194.3L350.4,192.8L350.5,191.3L350.7,189.8L350.9,188.3L351.1,186.8L351.3,185.3L351.5,183.8L351.7,182.3L351.9,180.8L352.1,179.3L352.3,177.8L352.6,176.3L352.8,174.8L353.1,173.3L353.4,171.8L353.6,170.3L353.9,168.8L354.3,167.3L354.6,165.8L354.9,164.4L355.3,162.9L355.6,161.4L356.0,159.9L356.4,158.5L356.8,157.0L357.2,155.5L357.6,154.0L358.0,152.5L358.5,151.1L358.9,149.6L359.4,148.2L359.9,146.7L360.4,145.3L361.0,143.9L361.5,142.5L362.1,141.1L362.7,139.7L363.3,138.4L363.9,137.0L364.6,135.6L365.4,134.2L366.2,132.8L367.1,131.5L368.0,130.3L369.0,129.2L370.0,128.2L371.2,127.4L372.5,126.6L374.0,125.9L375.5,125.5L376.9,125.4L378.4,125.8L379.8,126.5L381.2,127.4L382.3,128.3L383.4,129.2L384.4,130.4L385.3,131.7L386.2,133.0L387.0,134.3L387.7,135.6L388.4,136.9L389.1,138.2L389.7,139.6L390.4,141.0L391.0,142.4L391.5,143.8L392.1,145.2L392.6,146.7L393.2,148.1L393.7,149.6L394.2,151.0L394.6,152.5L395.1,153.9L395.5,155.4L396.0,156.8L396.4,158.3L396.8,159.7L397.2,161.2L397.6,162.7L398.0,164.1L398.4,165.6L398.7,167.1L399.1,168.5L399.4,170.0L399.8,171.5L400.1,173.0L400.4,174.5L400.8,176.0L401.1,177.5L401.4,179.0L401.7,180.4L402.0,181.9L402.2,183.4L402.5,184.9L402.7,186.4L403.0,187.9L403.2,189.4L403.5,190.9L403.7,192.4L403.9,193.9L404.1,195.4L404.3,196.9L404.5,198.4L404.7,199.9L404.9,201.4L405.1,202.9L405.3,204.4L405.4,205.9L405.6,207.5L405.7,209.0L405.9,210.5L406.0,212.0L406.3,210.5L406.6,209.0L406.9,207.5L407.2,206.1L407.5,204.6L407.8,203.1L408.0,201.6L408.2,200.1L408.5,198.6L408.6,197.1L408.8,195.6L409.0,194.1L409.2,192.6L409.3,191.1L409.5,189.6L409.6,188.1L409.8,186.6L409.9,185.1L410.0,183.6L410.1,182.1L410.3,180.6L410.4,179.0L410.5,177.5L410.7,176.0L410.8,174.5L410.9,173.0L411.1,171.5L411.2,170.0L411.4,168.5L411.6,167.0L411.8,165.5L411.9,164.0L412.1,162.5L412.3,161.0L412.5,159.5L412.7,158.0L413.0,156.5L413.2,155.0L413.4,153.5L413.6,152.0L413.8,150.5L414.1,149.0L414.3,147.5L414.6,146.0L414.8,144.5L415.1,143.0L415.3,141.6L415.6,140.1L415.8,138.6L416.1,137.1L416.3,135.6L416.6,134.1L416.9,132.6L417.2,131.1L417.4,129.6L417.7,128.2L418.0,126.7L418.3,125.2L418.7,123.7L419.0,122.2L419.3,120.8L419.7,119.3L420.0,117.8L420.4,116.4L420.8,114.9L421.2,113.4L421.7,112.0L422.2,110.6L422.7,109.1L423.2,107.7L423.8,106.4L424.5,105.0L425.1,103.6L425.8,102.3L426.5,100.9L427.2,99.6L427.8,98.2L428.5,96.8L429.3,95.6L430.2,94.5L431.3,93.4L432.4,92.3L433.6,91.4L434.8,90.4L436.0,89.5L437.3,88.6L438.6,87.8L440.0,87.0L441.2,86.2L442.4,85.2L443.3,84.2L444.1,83.0L444.9,81.7L445.6,80.4L446.3,79.0L447.0,77.6L447.7,76.2L448.4,74.8L449.2,73.5L450.0,72.2L450.8,70.9L451.6,69.6L452.6,68.4L453.6,67.4L454.9,66.3L456.3,65.4L457.6,65.0L458.8,65.5L459.9,66.7L460.8,68.0L461.6,69.2L462.3,70.6L462.9,72.0L463.6,73.4L464.3,74.8L464.9,76.1L465.5,77.5L466.1,79.0L466.7,80.4L467.4,81.8L468.0,83.2L468.6,84.5L469.3,85.9L470.1,87.1L470.9,88.4L471.8,89.5L472.9,90.6L474.0,91.7L475.2,92.6L476.4,93.6L477.7,94.4L479.1,94.9L480.6,95.1L482.2,95.3L483.7,95.5L485.2,95.8L486.5,96.2L487.6,97.1L488.7,98.3L489.7,99.5L490.5,100.8L491.2,102.1L491.9,103.5L492.6,104.9L493.3,106.2L494.0,107.5L494.8,108.8L495.6,110.1L496.3,111.4L497.1,112.8L497.7,114.1L498.3,115.5L498.9,116.9L499.5,118.3L500.0,119.7L500.5,121.1L501.0,122.5L501.5,124.0L501.9,125.4L502.4,126.8L502.9,128.3L503.3,129.8L503.7,131.2L504.2,132.7L504.6,134.1L505.1,135.6L505.6,137.0L506.0,138.4L506.5,139.9L506.9,141.3L507.3,142.8L507.7,144.2L508.2,145.7L508.6,147.2L509.0,148.6L509.4,150.1L509.8,151.5L510.3,153.0L510.7,154.4L511.2,155.9L511.7,157.3L512.2,158.7L512.7,160.1L513.2,161.5L513.8,163.0L514.3,164.4L515.0,165.8L515.9,167.0L516.9,168.3L518.2,168.6L519.5,167.9L520.7,166.8L521.6,165.6L522.4,164.3L523.1,163.0L523.8,161.7L524.5,160.4L525.2,159.0L525.8,157.6L526.5,156.3L527.0,154.9L527.6,153.4L528.1,152.0L528.5,150.5L528.9,149.0" />
<path d="M88.3,370.0L88.3,368.5L88.3,367.0L88.3,365.5L88.3,364.0L88.3,362.5L88.3,361.0L88.3,359.4L88.3,357.9L88.3,356.4L88.3,354.9L88.3,353.4L88.3,351.9L88.3,350.4L88.3,348.9L88.3,347.4L88.3,345.9L88.3,344.4L88.3,342.9L88.4,341.4L88.4,339.8L88.4,338.3L88.4,336.8L88.4,335.3L88.4,333.8L88.4,332.3L88.4,330.8L88.4,329.3L88.4,327.8L88.4,326.3L88.4,324.8L88.4,323.3L88.4,321.8L88.5,320.3L88.5,318.7L88.5,317.2L88.5,315.7L88.5,314.2L88.5,312.7L88.5,311.2L88.5,309.7L88.5,308.2L88.5,306.7L88.6,305.2L88.6,303.7L88.6,302.2L88.6,300.7L88.6,299.2L88.6,297.6L88.6,296.1L88.7,294.6L88.7,293.1L88.7,291.6L88.7,290.1L88.8,288.6L88.8,287.1L88.8,285.6L88.9,284.1L88.9,282.6L89.0,281.1L89.0,279.6L89.1,278.0L89.1,276.5L89.2,275.0L89.2,273.5L89.3,272.0L89.3,270.5L89.4,269.0L89.5,267.5L89.5,266.0L89.6,264.5L89.7,263.0L89.7,261.5L89.8,260.0L89.9,258.5L90.0,257.0L90.1,255.5L90.2,254.0L90.3,252.5L90.4,251.0L90.5,249.5L90.7,248.0L90.8,246.5L90.9,244.9L91.1,243.4L91.2,241.9L91.4,240.4L91.6,238.9L91.7,237.4L91.9,235.9L92.0,234.4L92.2,232.9L92.4,231.4L92.5,229.9L92.7,228.4L92.8,226.9L93.0,225.4L93.1,224.0L93.3,222.5L93.5,221.0L93.6,219.5L93.8,218.0L94.0,216.5L94.2,215.0L94.3,213.5L94.5,212.0L94.7,210.5L94.9,209.0L95.1,207.5L95.2,206.0L95.4,204.5L95.6,203.0L95.8,201.5L96.0,200.0L96.2,198.5L96.4,197.0L96.6,195.5L96.8,194.0L97.0,192.5L97.2,191.0L97.4,189.5L97.6,188.0L97.8,186.5L98.0,185.1L98.2,183.6L98.4,182.1L98.7,180.6L98.9,179.1L99.1,177.6L99.3,176.1L99.6,174.6L99.8,173.1L100.1,171.6L100.3,170.2L100.6,168.7L100.8,167.2L101.1,165.7L101.4,164.2L101.7,162.8L102.0,161.3L102.3,159.8L102.6,158.3L102.9,156.8L103.2,155.4L103.5,153.9L103.8,152.4L104.2,150.9L104.5,149.5L104.8,148.0L105.1,146.5L105.5,145.0L105.8,143.6L106.1,142.1L106.5,140.6L106.8,139.1L107.2,137.7L107.5,136.2L107.9,134.7L108.3,133.3L108.6,131.8L109.0,130.4L109.4,128.9L109.8,127.4L110.2,126.0L110.6,124.6L111.0,123.1L111.5,121.7L111.9,120.3L112.4,118.8L112.9,117.4L113.4,116.0L113.9,114.6L114.4,113.2L114.9,111.8L115.5,110.4L116.1,109.0L116.7,107.6L117.3,106.2L117.9,104.8L118.5,103.4L119.1,102.0L119.7,100.7L120.3,99.3L120.9,97.9L121.6,96.5L122.2,95.1L122.8,93.8L123.4,92.4L124.1,91.0L124.7,89.6L125.3,88.3L125.9,86.9L126.5,85.5L127.2,84.1L127.8,82.8L128.4,81.4L129.1,80.0L129.7,78.7L130.3,77.3L130.9,75.9L131.5,74.5L132.1,73.1L132.7,71.8L133.3,70.4L133.9,69.0L134.5,67.6L135.1,66.2L135.7,64.8L136.3,63.4L137.0,62.1L137.6,60.7L138.3,59.3L138.9,58.0L139.6,56.7L140.3,55.4L141.1,54.1L141.9,52.8L142.7,51.6L143.6,50.3L144.4,49.1L145.3,47.8L146.2,46.6L147.0,45.4L147.9,44.1L148.8,42.9L149.6,41.6L150.4,40.3L151.2,39.0L151.9,37.7L152.7,36.3L153.4,35.0L154.2,33.7L155.0,32.5L155.9,31.3L156.8,30.1L157.8,29.0L158.9,27.9L160.1,26.9L161.3,25.9L162.6,25.2L163.9,24.6L165.3,24.1L166.7,23.6L168.2,23.1L169.7,22.8L171.2,22.5L172.7,22.3L174.2,22.2L175.7,22.2L177.2,22.1L178.7,22.0L180.2,22.0L181.7,21.9L183.2,21.9L184.7,21.9L186.3,21.8L187.8,21.8L189.3,21.8L190.8,21.8L192.3,21.8L193.8,21.8L195.3,21.8L196.8,21.8L198.3,21.8L199.8,21.8L201.3,21.8L202.9,21.8L204.4,21.8L205.9,21.8L207.4,21.8L208.9,21.8L210.4,21.8L211.9,21.8L213.4,21.8L214.9,21.8L216.4,21.8L217.9,21.9L219.4,21.9L221.0,22.0L222.5,22.2L224.0,22.3L225.4,22.4L227.0,22.6L228.5,22.9L230.1,23.3L231.4,23.8L232.5,24.5L233.5,25.5L234.3,26.9L235.1,28.3L235.9,29.7L236.5,31.1L237.2,32.4L237.7,33.8L238.3,35.3L238.7,36.7L239.2,38.1L239.6,39.6L240.0,41.1L240.3,42.5L240.6,44.0L240.9,45.5L241.1,47.0L241.3,48.4L241.6,49.9L241.8,51.4L242.0,52.9L242.1,54.4L242.3,55.9L242.5,57.4L242.7,58.9L242.8,60.4L243.0,61.9L243.1,63.4L243.3,64.9L243.4,66.4L243.6,67.9L243.7,69.4L243.9,70.9L244.0,72.4L244.2,73.9L244.4,75.4L244.5,76.9L244.7,78.4L244.9,79.9L245.1,81.4L245.2,82.9L245.4,84.4L245.6,85.9L245.7,87.4L245.9,88.9L246.0,90.4L246.2,91.9L246.4,93.4L246.5,94.9L246.7,96.4L246.8,97.9L247.0,99.4L247.1,100.9L247.3,102.4L247.4,103.9L247.5,105.4L247.6,106.9L247.7,108.4L247.9,109.9L247.9,111.4L248.0,112.9L248.1,114.4L248.2,115.9L248.3,117.4L248.4,118.9L248.5,120.4L248.6,122.0L248.6,123.5L248.7,125.0L248.8,126.5L248.9,128.0L249.0,129.5L249.1,131.0L249.2,132.5L249.3,134.0L249.4,135.5L249.5,137.0L249.6,138.5L249.7,140.0L249.8,141.5L249.9,143.0L250.0,144.5L250.1,146.0L250.2,147.5L250.3,149.0L250.4,150.5L250.5,152.0L250.6,153.6L250.7,155.1L250.8,156.6L251.0,158.1L251.1,159.6L251.2,161.1L251.4,162.6L251.5,164.1L251.7,165.6L251.9,167.0L252.1,168.5L252.3,170.0L252.5,171.5L252.7,173.0L253.0,174.5L253.2,176.0L253.4,174.5L253.5,173.0L253.7,171.5L253.8,170.0L254.0,168.5L254.1,167.0L254.3,165.5L254.4,164.0L254.6,162.5L254.7,161.0L254.9,159.5L255.0,158.0L255.1,156.5L255.2,155.0L255.3,153.5L255.4,152.0L255.6,150.5L255.7,149.0L255.8,147.5L255.9,146.0L256.0,144.5L256.1,143.0L256.1,141.5L256.2,140.0L256.3,138.5L256.4,137.0L256.5,135.5L256.6,134.0L256.7,132.5L256.8,131.0L256.9,129.5L257.0,128.0L257.1,126.5L257.2,124.9L257.4,123.4L257.5,121.9L257.6,120.4L257.7,118.9L257.9,117.4L258.0,115.9L258.2,114.4L258.3,112.9L258.4,111.4L258.6,109.9L258.7,108.4L258.9,106.9L259.0,105.4L259.2,103.9L259.3,102.4L259.4,100.9L259.5,99.4L259.7,97.9L259.8,96.4L259.9,94.9L260.0,93.4L260.1,91.9L260.2,90.4L260.3,88.9L260.4,87.4L260.5,85.9L260.6,84.4L260.7,82.9L260.8,81.4L260.9,79.9L261.0,78.4L261.1,76.9L261.2,75.4L261.3,73.9L261.5,72.4L261.6,70.9L261.8,69.4L261.9,67.9L262.1,66.4L262.2,64.9L262.4,63.4L262.6,61.9L262.8,60.4L263.0,58.9L263.2,57.3L263.5,55.8L263.7,54.3L264.0,52.8L264.3,51.4L264.6,49.9L264.9,48.4L265.2,47.0L265.6,45.5L266.0,44.1L266.4,42.7L266.9,41.3L267.5,39.8L268.1,38.4L268.8,36.9L269.6,35.6L270.4,34.3L271.3,33.1L272.2,32.1L273.3,31.1L274.5,30.2L275.8,29.4L277.3,28.7L278.7,28.3L280.1,28.0L281.6,27.8L283.1,27.6L284.6,27.4L286.1,27.3L287.6,27.2L289.1,27.0L290.6,26.9L292.1,26.8L293.7,26.7L295.2,26.6L296.7,26.6L298.2,26.5L299.7,26.5L301.2,26.5L302.7,26.5L304.2,26.5L305.7,26.5L307.2,26.5L308.7,26.5L310.2,26.5L311.7,26.5L313.2,26.5L314.7,26.5L316.3,26.5L317.8,26.5L319.3,26.5L320.8,26.5L322.3,26.5L323.8,26.5L325.3,26.5L326.8,26.5L328.3,26.5L329.8,26.5L331.3,26.5L332.8,26.5L334.3,26.5L335.8,26.6L337.3,26.6L338.8,26.6L340.3,26.7L341.9,26.7L343.4,26.8L344.9,26.9L346.4,26.9L347.9,27.0L349.4,27.1L350.9,27.2L352.4,27.3L353.9,27.4L355.4,27.5L356.9,27.6L358.4,27.7L359.9,27.8L361.4,27.9L362.9,28.0L364.4,28.1L365.9,28.2L367.4,28.3L368.9,28.4L370.4,28.5L371.9,28.7L373.4,28.8L374.9,28.9L376.4,29.0L377.9,29.1L379.5,29.2L381.0,29.3L382.5,29.5L384.0,29.6L385.5,29.7L387.0,29.9L388.5,30.0L390.0,30.2L391.5,30.4L393.0,30.6L394.4,30.8L395.9,31.0L397.4,31.2L398.9,31.5L400.4,31.8L401.9,32.2L403.4,32.5L404.9,32.9L406.4,33.4L407.8,33.9L409.2,34.4L410.6,34.9L411.9,35.5L413.1,36.1L414.3,36.9L415.5,37.9L416.7,38.9L417.8,39.9L418.9,41.0L420.0,42.2L421.0,43.4L422.0,44.5L423.0,45.6L423.9,46.8L424.9,48.0L425.8,49.2L426.7,50.4L427.5,51.7L428.3,53.0L429.1,54.3L429.9,55.6L430.6,56.9L431.3,58.2L432.0,59.6L432.6,60.9L433.2,62.3L433.8,63.7L434.3,65.1L434.8,66.5L435.4,67.9L435.9,69.3L436.4,70.8L436.8,72.2L437.3,73.7L437.7,75.1L438.2,76.5L438.6,78.0L439.0,79.4L439.4,80.9L439.8,82.3L440.1,83.8L440.5,85.3L440.8,86.7L441.2,88.2L441.5,89.7L441.9,91.1L442.2,92.6L442.6,94.1L442.9,95.6L443.2,97.0L443.6,98.5L443.9,100.0L444.3,101.4L444.6,102.9L444.9,104.4L445.3,105.8L445.6,107.3L445.9,108.8L446.2,110.2L446.5,111.7L446.8,113.2L447.1,114.7L447.4,116.1L447.7,117.6L448.0,119.1L448.3,120.6L448.6,122.1L448.8,123.5L449.1,125.0L449.3,126.5L449.6,128.0L449.8,129.5L450.0,131.0L450.2,132.5L450.4,134.0L450.6,135.5L450.8,137.0L451.0,138.4L451.2,139.9L451.4,141.4L451.6,142.9L451.8,144.4L452.0,145.9L452.2,147.4L452.4,148.9L452.6,150.4L452.8,151.9L452.9,153.4L453.1,154.9L453.3,156.4L453.6,157.9L453.8,159.4L454.0,160.9L454.2,162.3L454.4,163.8L454.6,165.3L454.9,166.8L455.1,168.3L455.4,169.8L455.6,171.3L455.8,172.8L456.1,174.3L456.3,175.7L456.6,177.2L456.8,178.7L457.0,180.2L457.3,181.7L457.5,183.2L457.7,184.7L458.0,186.2L458.2,187.6L458.4,189.1L458.7,190.6L458.9,192.1L459.1,193.6L459.3,195.1L459.5,196.6L459.7,198.1L459.9,199.6L460.1,201.1L460.3,202.6L460.5,204.0L460.7,205.5L460.9,207.0L461.1,208.5L461.2,210.0L461.4,211.5L461.6,213.0L461.8,214.5L461.9,216.0L462.1,217.5L462.3,219.0L462.4,220.5L462.6,222.0L462.8,223.5L462.9,225.0L463.1,226.5L463.2,228.0L463.4,229.5L463.5,231.0L463.7,232.5L463.8,234.0L464.0,235.5L464.1,237.0L464.3,238.5L464.4,240.0L464.6,241.5L464.7,243.0L464.8,244.5L465.0,246.0L465.1,247.5L465.2,249.0L465.3,250.5L465.5,252.0L465.6,253.5L465.7,255.0L465.9,253.5L466.0,252.0L466.2,250.5L466.4,249.0L466.5,247.5L466.7,246.0L466.8,244.5L467.0,243.0L467.2,241.5L467.3,240.0L467.5,238.4L467.6,236.9L467.7,235.4L467.9,233.9L468.0,232.4L468.2,230.9L468.3,229.4L468.4,227.9L468.6,226.4L468.7,224.9L468.8,223.4L469.0,221.9L469.1,220.4L469.2,218.9L469.3,217.3L469.4,215.8L469.6,214.3L469.7,212.8L469.8,211.3L469.9,209.8L470.0,208.3L470.1,206.8L470.2,205.3L470.3,203.8L470.3,202.3L470.4,200.8L470.5,199.2L470.6,197.7L470.7,196.2L470.7,194.7L470.8,193.2L470.9,191.7L470.9,190.2L471.0,188.7L471.1,187.2L471.1,185.6L471.2,184.1L471.3,182.6L471.3,181.1L471.4,179.6L471.5,178.1L471.5,176.6L471.6,175.1L471.7,173.5L471.8,172.0L471.8,170.5L471.9,169.0L472.0,167.5L472.1,166.0L472.2,164.5L472.3,163.0L472.4,161.5L472.5,160.0L472.6,158.5L472.7,156.9L472.8,155.4L472.9,153.9L473.1,152.4L473.2,150.9L473.3,149.4L473.5,147.9L473.6,146.4L473.7,144.9L473.9,143.4L474.0,141.9L474.2,140.4L474.4,138.9L474.5,137.4L474.7,135.8L474.8,134.3L475.0,132.8L475.2,131.3L475.4,129.8L475.5,128.3L475.7,126.8L475.9,125.3L476.1,123.8L476.3,122.3L476.5,120.8L476.6,119.3L476.8,117.8L477.0,116.3L477.2,114.8L477.4,113.3L477.7,111.8L477.9,110.3L478.1,108.8L478.4,107.3L478.6,105.8L478.9,104.3L479.2,102.9L479.5,101.4L479.8,99.9L480.2,98.5L480.7,97.0L481.1,95.6L481.6,94.1L482.0,92.7L482.5,91.2L482.9,89.8L483.3,88.3L483.8,86.9L484.3,85.4L484.8,84.0L485.3,82.6L485.9,81.2L486.5,79.8L487.2,78.5L487.8,77.1L488.5,75.7L489.3,74.3L490.1,73.0L490.9,71.7L491.8,70.5L492.7,69.4L493.6,68.3L494.7,67.2L495.8,66.2L497.0,65.1L498.3,64.2L499.6,63.3L500.9,62.5L502.2,61.8L503.5,61.3L504.9,60.8L506.3,60.3L507.8,59.8L509.3,59.4L510.8,59.1L512.3,58.8L513.9,58.6L515.3,58.6L516.8,58.6L518.3,58.6L519.8,58.7L521.3,58.8L522.8,58.9L524.3,59.1L525.9,59.3L527.4,59.6L528.9,60.0" />
<path d="M87.6,17.4L89.1,17.4L90.6,17.4L92.1,17.4L93.7,17.4L95.2,17.5L96.7,17.5L98.2,17.5L99.7,17.5L101.2,17.6L102.7,17.6L104.2,17.6L105.7,17.7L107.2,17.7L108.8,17.8L110.3,17.8L111.8,17.9L113.3,17.9L114.8,18.0L116.3,18.2L117.9,18.3L119.4,18.4L120.9,18.6L122.4,18.8L123.9,19.0L125.4,19.2L126.9,19.4L128.4,19.7L129.8,20.0L131.2,20.3L132.7,20.8L134.1,21.4L135.5,22.1L136.9,22.9L138.2,23.7L139.4,24.5L140.5,25.4L141.6,26.3L142.6,27.4L143.6,28.5L144.6,29.7L145.6,30.9L146.5,32.2L147.3,33.5L148.2,34.8L149.0,36.2L149.7,37.5L150.4,38.8L151.1,40.1L151.7,41.4L152.4,42.8L152.9,44.2L153.5,45.6L154.1,47.0L154.6,48.4L155.1,49.9L155.7,51.3L156.2,52.7L156.7,54.2L157.2,55.6L157.7,57.1L158.2,58.5L158.7,59.9L159.2,61.3L159.7,62.8L160.1,64.2L160.6,65.6L161.1,67.1L161.5,68.5L162.0,70.0L162.4,71.4L162.7,72.9L163.1,74.4L163.4,75.8L163.7,77.3L164.0,78.8L164.3,80.3L164.6,81.7L164.8,83.2L165.1,84.7L165.3,86.2L165.6,87.7L165.8,89.2L166.1,90.7L166.3,92.2L166.6,93.7L166.8,95.2L167.1,96.7L167.4,98.1L167.7,99.6L168.0,101.1L168.3,102.6L168.6,104.1L168.9,105.5L169.2,107.0L169.6,108.5L169.9,110.0L170.2,111.5L170.5,113.0L170.7,114.4L171.0,115.9L171.3,117.4L171.5,118.9L171.8,120.4L172.0,121.9L172.2,123.4L172.4,124.9L172.6,126.4L172.7,127.9L172.9,129.4L173.1,130.9L173.2,132.4L173.4,133.9L173.6,135.4L173.7,136.9L173.9,138.4L174.0,139.9L174.1,141.4L174.3,142.9L174.4,144.4L174.6,145.9L174.7,147.4L174.9,148.9L175.0,150.4L175.2,151.9L175.4,153.4L175.5,154.9L175.7,156.4L175.8,157.9L176.0,159.4L176.2,160.9L176.3,162.4L176.5,163.9L176.7,165.4L176.8,166.9L177.0,168.4L177.1,169.9L177.3,171.5L177.4,173.0L177.5,174.5L177.7,176.0L177.8,177.5L177.9,179.0L178.0,180.5L178.1,182.0L178.3,183.5L178.4,185.0L178.5,186.5L178.6,188.0L178.6,189.5L178.7,191.0L178.8,192.5L178.9,194.0L179.0,195.6L179.1,197.1L179.1,198.6L179.2,200.1L179.3,201.6L179.3,203.1L179.4,204.6L179.4,206.1L179.5,207.6L179.6,209.1L179.6,210.7L179.7,212.2L179.7,213.7L179.8,215.2L179.8,216.7L179.9,218.2L179.9,219.7L179.9,221.2L180.0,222.7L180.0,224.2L180.1,225.8L180.1,227.3L180.2,228.8L180.2,230.3L180.3,231.8L180.3,233.3L180.3,234.8L180.4,236.3L180.4,237.8L180.5,239.3L180.5,240.9L180.5,242.4L180.6,243.9L180.6,245.4L180.7,246.9L180.7,248.4L180.7,249.9L180.8,251.4L180.8,252.9L180.8,254.4L180.9,256.0L180.9,257.5L180.9,259.0L181.0,260.5L181.0,262.0L181.0,260.5L181.0,258.9L181.0,257.4L181.0,255.8L181.1,254.3L181.1,252.8L181.1,251.2L181.2,249.7L181.2,248.2L181.2,246.6L181.3,245.1L181.3,243.6L181.4,242.0L181.4,240.5L181.5,239.0L181.6,237.5L181.7,235.9L181.7,234.4L181.8,232.9L181.9,231.4L182.0,229.8L182.1,228.3L182.2,226.8L182.2,225.3L182.3,223.8L182.5,222.3L182.6,220.7L182.7,219.2L182.8,217.7L182.9,216.2L183.0,214.7L183.1,213.1L183.3,211.5L183.5,209.9L183.7,208.3L184.0,206.7L184.3,205.2L184.7,203.9L185.2,202.7L186.5,201.5L187.8,200.6L188.4,200.8L188.8,201.8L189.1,203.4L189.4,205.3L189.7,207.2L189.9,209.1L190.1,210.7L190.3,212.2L190.5,213.7L190.7,215.2L190.9,216.7L191.1,218.2L191.2,219.8L191.4,221.3L191.5,222.8L191.7,224.3L191.8,225.8L192.0,227.4L192.1,228.9L192.2,230.4L192.4,231.9L192.5,233.5L192.6,235.0L192.8,236.5L192.9,238.0L193.0,239.6L193.1,241.1L193.3,242.6L193.4,244.1L193.5,245.7L193.6,247.2L193.7,248.7L193.9,250.2L194.0,251.8L194.1,253.3L194.2,254.8L194.3,256.3L194.4,257.8L194.5,259.4L194.6,260.9L194.7,262.4L194.8,263.9L194.9,265.5L195.0,267.0L195.1,265.5L195.2,264.0L195.3,262.5L195.4,260.9L195.5,259.4L195.6,257.9L195.7,256.4L195.9,254.9L196.0,253.4L196.1,251.9L196.2,250.4L196.3,248.8L196.4,247.3L196.5,245.8L196.6,244.3L196.7,242.8L196.9,241.3L197.0,239.8L197.1,238.2L197.2,236.7L197.3,235.2L197.5,233.7L197.6,232.2L197.7,230.7L197.8,229.2L198.0,227.7L198.1,226.2L198.2,224.6L198.3,223.1L198.5,221.6L198.6,220.1L198.7,218.6L198.8,217.1L198.9,215.6L199.0,214.1L199.2,212.5L199.3,211.0L199.4,209.5L199.5,208.0L199.6,206.5L199.7,205.0L199.8,203.5L199.9,201.9L200.0,200.4L200.1,198.9L200.1,197.4L200.2,195.9L200.3,194.4L200.4,192.9L200.5,191.3L200.6,189.8L200.7,188.3L200.8,186.8L200.9,185.3L201.0,183.8L201.0,182.3L201.1,180.7L201.2,179.2L201.3,177.7L201.4,176.2L201.4,174.7L201.5,173.2L201.6,171.6L201.7,170.1L201.8,168.6L201.9,167.1L202.0,165.6L202.1,164.1L202.1,162.6L202.2,161.0L202.3,159.5L202.4,158.0L202.5,156.5L202.6,155.0L202.7,153.5L202.8,152.0L203.0,150.4L203.1,148.9L203.3,147.4L203.4,145.9L203.6,144.4L203.8,142.9L204.0,141.4L204.2,139.9L204.5,138.4L204.7,136.9L204.9,135.4L205.2,133.9L205.4,132.4L205.6,130.9L205.9,129.4L206.2,127.8L206.4,126.3L206.7,124.8L207.1,123.4L207.4,121.9L207.8,120.5L208.4,119.0L209.1,117.3L210.0,115.6L210.8,114.1L211.6,113.2L212.2,113.0L212.6,113.6L213.1,114.7L213.5,116.2L213.9,118.0L214.2,119.9L214.5,121.8L214.8,123.7L215.0,125.3L215.2,126.8L215.4,128.3L215.6,129.8L215.8,131.3L215.9,132.8L216.1,134.3L216.2,135.8L216.3,137.3L216.5,138.8L216.6,140.4L216.7,141.9L216.9,143.4L217.0,144.9L217.1,146.4L217.3,147.9L217.4,149.4L217.5,150.9L217.6,152.5L217.8,154.0L217.9,155.5L218.0,157.0L218.1,155.5L218.2,154.0L218.2,152.5L218.3,150.9L218.4,149.4L218.5,147.9L218.6,146.4L218.7,144.9L218.8,143.4L218.9,141.8L219.0,140.3L219.1,138.8L219.2,137.3L219.3,135.8L219.4,134.3L219.5,132.8L219.6,131.2L219.7,129.7L219.8,128.2L219.9,126.7L220.0,125.2L220.1,123.7L220.2,122.2L220.3,120.7L220.5,119.1L220.6,117.6L220.7,116.1L220.8,114.6L221.0,113.1L221.1,111.6L221.2,110.1L221.4,108.6L221.5,107.0L221.6,105.5L221.7,104.0L221.8,102.5L221.9,101.0L222.0,99.5L222.1,98.0L222.2,96.4L222.3,94.9L222.4,93.4L222.5,91.9L222.5,90.4L222.6,88.9L222.7,87.4L222.7,85.8L222.8,84.3L222.9,82.8L222.9,81.3L223.0,79.8L223.1,78.3L223.1,76.7L223.2,75.2L223.3,73.7L223.3,72.2L223.4,70.7L223.5,69.2L223.6,67.6L223.6,66.1L223.7,64.6L223.8,63.1L223.9,61.6L224.0,60.1L224.1,58.6L224.2,57.0L224.3,55.5L224.4,54.0L224.5,52.5L224.6,50.9L224.7,49.4L224.8,47.9L224.9,46.4L225.0,44.9L225.2,43.4L225.4,41.9L225.6,40.4L225.8,38.8L226.2,37.2L226.6,35.6L227.0,34.0L227.6,32.6L228.2,31.3L228.8,30.2L229.7,29.3L231.0,28.4L232.5,27.6L234.1,27.1L235.5,27.0L237.0,27.3L238.5,27.9L239.9,28.5L241.3,29.2L242.5,30.1L243.5,31.1L244.5,32.3L245.3,33.6L246.1,35.0L246.6,36.4L247.0,37.8L247.3,39.3L247.6,40.8L247.8,42.3L248.1,43.8L248.3,45.3L248.5,46.9L248.7,48.4L248.9,49.9L249.2,51.4L249.4,52.9L249.6,54.4L249.9,55.9L250.1,57.4L250.3,58.9L250.4,60.4L250.6,61.9L250.8,63.4L251.0,64.9L251.1,66.4L251.3,67.9L251.5,69.4L251.6,70.9L251.8,72.4L251.9,73.9L252.0,75.5L252.2,77.0L252.3,78.5L252.4,80.0L252.7,78.5L253.0,77.0L253.3,75.6L253.6,74.1L253.9,72.6L254.2,71.1L254.5,69.6L254.8,68.2L255.1,66.7L255.5,65.2L255.8,63.7L256.1,62.2L256.4,60.8L256.6,59.3L256.8,57.7L257.0,56.1L257.2,54.6L257.3,53.0L257.5,51.5L257.8,50.0L258.0,48.6L258.4,47.4L259.1,46.2L260.2,45.2L261.4,44.2L262.7,43.1L263.9,42.1L264.9,41.0L265.8,39.7L266.7,38.4L267.5,37.1L268.4,35.8L269.3,34.7L270.3,33.7L271.5,32.8L272.8,31.9L274.1,31.0L275.5,30.3L276.9,29.8L278.3,29.4L279.8,29.2L281.3,29.1L282.9,29.0L284.4,29.0L285.9,29.1L287.4,29.2L288.9,29.4L290.4,29.6L291.9,29.9L293.4,30.1L294.9,30.3L296.4,30.5L297.9,30.7L299.4,30.9L300.9,31.0L302.4,31.1L303.9,31.2L305.4,31.3L306.9,31.4L308.4,31.5L309.9,31.6L311.5,31.7L313.0,31.7L314.5,31.8L316.0,31.9L317.5,31.9L319.0,32.0L320.5,32.0L322.0,32.0L323.5,32.0L325.1,32.0L326.6,32.0L328.1,32.0L329.6,32.0L331.1,32.0L332.6,31.9L334.1,31.7L335.6,31.5L337.1,31.2L338.6,30.9L340.1,30.6L341.6,30.3L343.1,30.0L344.5,29.7L346.0,29.4L347.5,29.1L349.0,29.0L350.5,28.8L352.0,28.8L353.5,28.8L355.0,28.8L356.6,28.9L358.1,28.9L359.6,29.0L361.1,29.0L362.6,29.1L364.1,29.2L365.6,29.3L367.1,29.4L368.7,29.5L370.2,29.7L371.7,29.8L373.2,29.9L374.7,30.1L376.2,30.2L377.7,30.4L379.2,30.7L380.7,31.0L382.2,31.3L383.6,31.6L385.1,32.0L386.5,32.5L387.9,33.0L389.4,33.6L390.8,34.3L392.2,35.0L393.5,35.8L394.7,36.6L395.9,37.5L396.9,38.4L398.0,39.4L399.1,40.5L400.1,41.7L401.0,42.9L401.9,44.2L402.8,45.6L403.6,46.9L404.3,48.2L404.9,49.6L405.5,50.9L406.0,52.3L406.5,53.7L406.9,55.1L407.3,56.6L407.7,58.1L408.1,59.6L408.5,61.1L408.9,62.6L409.2,64.0L409.6,65.5L410.0,67.0L410.4,68.4L410.8,69.9L411.2,71.4L411.6,72.8L411.9,74.3L412.3,75.8L412.7,77.2L413.0,78.7L413.4,80.2L413.7,81.6L414.0,83.1L414.4,84.6L414.7,86.1L415.0,87.5L415.4,89.0L415.7,90.5L416.0,92.0L416.3,93.5L416.5,94.9L416.8,96.4L417.0,97.9L417.2,99.4L417.3,100.9L417.4,102.4L417.6,103.9L417.7,105.5L417.8,107.0L417.9,108.5L418.1,110.0L418.3,111.5L418.5,113.0L418.7,114.5L418.9,116.0L419.1,117.5L419.3,119.0L419.5,120.5L419.7,122.0L419.9,123.5L420.1,125.0L420.2,126.5L420.4,128.0L420.6,129.5L420.8,131.0L420.9,132.5L421.1,134.0L421.3,135.5L421.4,137.0L421.6,138.5L421.8,140.0L421.9,141.5L422.1,143.0L422.2,144.5L422.4,146.0L422.6,147.5L422.7,149.0L422.9,150.5L423.0,152.0L423.3,150.5L423.5,149.0L423.8,147.5L424.0,146.0L424.3,144.5L424.6,143.0L424.8,141.5L425.1,140.0L425.4,138.5L425.6,137.0L425.9,135.5L426.2,134.0L426.5,132.5L426.8,131.0L427.1,129.5L427.4,128.0L427.6,126.5L427.9,125.0L428.2,123.5L428.4,122.0L428.6,120.5L428.8,119.0L429.1,117.5L429.3,116.0L429.5,114.5L429.7,113.0L429.9,111.5L430.1,110.0L430.3,108.5L430.5,107.0L430.6,105.4L430.8,103.9L431.0,102.4L431.2,100.9L431.3,99.4L431.5,97.9L431.6,96.4L431.8,94.8L431.9,93.3L432.0,91.8L432.2,90.3L432.3,88.7L432.5,87.2L432.6,85.7L432.8,84.2L432.9,82.7L433.1,81.2L433.3,79.6L433.4,78.1L433.6,76.6L433.8,75.1L434.0,73.6L434.3,72.2L434.5,70.7L434.8,69.2L435.1,67.7L435.4,66.2L435.8,64.7L436.2,63.2L436.6,61.7L437.1,60.2L437.5,58.7L438.0,57.3L438.5,55.9L439.1,54.5L439.7,53.2L440.3,51.8L441.0,50.4L441.8,49.0L442.7,47.6L443.6,46.3L444.5,45.1L445.5,44.0L446.5,43.0L447.7,42.2L448.9,41.3L450.2,40.5L451.6,39.7L453.1,39.1L454.6,38.5L456.0,38.1L457.4,37.8L458.9,37.5L460.4,37.3L461.9,37.1L463.4,36.9L464.9,36.7L466.5,36.6L468.0,36.4L469.5,36.3L471.1,36.2L472.6,36.1L474.1,36.0L475.6,35.9L477.2,35.8L478.7,35.7L480.2,35.6L481.7,35.5L483.2,35.4L484.8,35.4L486.3,35.3L487.8,35.2L489.3,35.2L490.9,35.1L492.4,35.1L493.9,35.0L495.4,35.0L496.9,35.0L498.5,35.0L500.0,35.0L501.5,35.0L503.0,35.0L504.5,35.0L506.1,35.0L507.6,35.0L509.1,35.0L510.6,35.0L512.2,35.0L513.7,35.1L515.2,35.1L516.7,35.1L518.2,35.1L519.8,35.1L521.3,35.2L522.8,35.2L524.3,35.2L525.9,35.3L527.4,35.3L528.9,35.4" stroke-dasharray="7.2 2.9 1.6 2.9" stroke-width="1.4"/>
<path d="M88.6,370.0L88.6,368.5L88.6,367.0L88.6,365.5L88.6,364.0L88.6,362.5L88.6,361.0L88.6,359.4L88.6,357.9L88.6,356.4L88.6,354.9L88.6,353.4L88.6,351.9L88.6,350.4L88.6,348.9L88.6,347.4L88.7,345.9L88.7,344.4L88.7,342.9L88.7,341.4L88.7,339.9L88.7,338.4L88.7,336.8L88.7,335.3L88.7,333.8L88.7,332.3L88.7,330.8L88.7,329.3L88.8,327.8L88.8,326.3L88.8,324.8L88.8,323.3L88.8,321.8L88.8,320.3L88.8,318.8L88.8,317.3L88.8,315.8L88.9,314.3L88.9,312.7L88.9,311.2L88.9,309.7L88.9,308.2L88.9,306.7L88.9,305.2L89.0,303.7L89.0,302.2L89.0,300.7L89.0,299.2L89.0,297.7L89.1,296.2L89.1,294.7L89.1,293.2L89.2,291.7L89.2,290.2L89.3,288.7L89.3,287.1L89.4,285.6L89.4,284.1L89.5,282.6L89.6,281.1L89.6,279.6L89.7,278.1L89.8,276.6L89.9,275.1L90.0,273.6L90.0,272.1L90.1,270.6L90.2,269.1L90.3,267.6L90.4,266.1L90.5,264.6L90.6,263.1L90.7,261.6L90.8,260.1L90.9,258.6L91.0,257.1L91.2,255.6L91.3,254.1L91.5,252.6L91.6,251.1L91.8,249.6L92.0,248.1L92.2,246.6L92.4,245.1L92.6,243.6L92.8,242.1L93.0,240.6L93.2,239.1L93.4,237.6L93.6,236.1L93.8,234.6L94.0,233.1L94.3,231.7L94.5,230.2L94.7,228.7L94.9,227.2L95.1,225.7L95.4,224.2L95.6,222.7L95.8,221.2L96.1,219.7L96.3,218.3L96.6,216.8L96.8,215.3L97.1,213.8L97.3,212.3L97.6,210.8L97.8,209.3L98.1,207.9L98.4,206.4L98.6,204.9L98.9,203.4L99.2,201.9L99.4,200.4L99.7,199.0L100.0,197.5L100.2,196.0L100.5,194.5L100.8,193.0L101.1,191.6L101.4,190.1L101.6,188.6L101.9,187.1L102.2,185.6L102.5,184.2L102.8,182.7L103.1,181.2L103.4,179.7L103.7,178.3L104.0,176.8L104.3,175.3L104.7,173.8L105.0,172.4L105.3,170.9L105.6,169.4L106.0,168.0L106.3,166.5L106.6,165.0L107.0,163.6L107.4,162.1L107.7,160.6L108.1,159.2L108.4,157.7L108.8,156.2L109.2,154.8L109.6,153.3L110.0,151.9L110.4,150.4L110.8,149.0L111.2,147.5L111.6,146.1L112.0,144.6L112.5,143.2L112.9,141.7L113.3,140.3L113.8,138.9L114.2,137.4L114.7,136.0L115.2,134.6L115.6,133.1L116.1,131.7L116.6,130.3L117.0,128.8L117.5,127.4L118.0,126.0L118.5,124.5L119.0,123.1L119.4,121.7L119.9,120.3L120.4,118.8L120.9,117.4L121.4,116.0L121.8,114.5L122.3,113.1L122.8,111.7L123.3,110.3L123.8,108.8L124.3,107.4L124.8,106.0L125.3,104.6L125.8,103.2L126.4,101.7L126.9,100.3L127.4,98.9L128.0,97.5L128.5,96.1L129.1,94.7L129.7,93.4L130.3,92.0L130.9,90.6L131.6,89.3L132.3,87.9L132.9,86.6L133.6,85.2L134.2,83.8L134.9,82.5L135.5,81.1L136.1,79.7L136.7,78.3L137.3,77.0L137.8,75.6L138.4,74.2L139.0,72.8L139.5,71.4L140.0,69.9L140.6,68.5L141.1,67.1L141.7,65.7L142.2,64.3L142.8,62.9L143.4,61.5L143.9,60.1L144.5,58.8L145.1,57.3L145.7,55.9L146.2,54.5L146.8,53.1L147.4,51.7L147.9,50.3L148.5,48.9L149.1,47.5L149.8,46.2L150.4,44.8L151.1,43.5L151.9,42.2L152.6,41.0L153.5,39.7L154.4,38.5L155.3,37.3L156.2,36.1L157.2,34.9L158.3,33.8L159.3,32.7L160.3,31.7L161.4,30.6L162.5,29.6L163.7,28.5L164.9,27.6L166.1,26.7L167.3,25.9L168.6,25.2L170.0,24.5L171.4,23.9L172.8,23.3L174.3,22.9L175.7,22.7L177.2,22.5L178.7,22.3L180.2,22.2L181.7,22.1L183.2,22.0L184.8,22.0L186.3,22.0L187.8,22.0L189.3,22.1L190.8,22.2L192.3,22.3L193.8,22.4L195.3,22.5L196.8,22.7L198.3,23.0L199.8,23.4L201.2,23.8L202.7,24.2L204.1,24.7L205.4,25.3L206.8,26.0L208.1,26.7L209.4,27.6L210.7,28.5L211.8,29.4L212.9,30.4L213.9,31.5L214.9,32.7L215.8,34.0L216.6,35.3L217.3,36.6L217.9,37.9L218.5,39.3L219.0,40.7L219.5,42.2L219.9,43.7L220.2,45.1L220.5,46.6L220.8,48.1L221.0,49.6L221.2,51.1L221.4,52.6L221.6,54.1L221.8,55.6L221.9,57.1L222.0,58.6L222.0,60.1L222.1,61.6L222.1,63.1L222.2,64.6L222.2,66.1L222.2,67.6L222.3,69.1L222.3,70.6L222.3,72.1L222.4,73.6L222.4,75.1L222.4,76.6L222.4,78.2L222.5,79.7L222.5,81.2L222.5,82.7L222.6,84.2L222.6,85.7L222.6,87.2L222.7,88.7L222.7,90.2L222.8,91.7L222.8,93.2L222.8,94.7L222.9,96.2L222.9,97.7L223.0,99.2L223.0,100.7L223.1,102.2L223.2,103.8L223.2,105.3L223.3,106.8L223.4,108.3L223.5,109.8L223.5,111.3L223.6,112.8L223.7,114.3L223.8,115.8L223.9,117.3L224.1,118.8L224.2,120.3L224.3,121.8L224.4,123.3L224.5,124.8L224.7,126.3L224.8,127.8L224.9,129.3L225.1,130.8L225.3,132.3L225.4,133.8L225.7,135.3L225.9,136.8L226.1,138.3L226.4,139.7L226.6,141.2L226.9,142.7L227.1,144.2L227.4,145.7L227.6,147.2L227.8,148.7L228.0,150.2L228.2,151.7L228.4,153.2L228.6,154.7L228.7,156.1L228.9,157.6L229.1,159.1L229.3,160.6L229.4,162.1L229.6,163.6L229.8,165.1L229.9,166.6L230.1,168.1L230.2,169.6L230.4,171.1L230.5,172.6L230.6,174.1L230.7,175.6L230.8,177.1L230.9,178.6L231.0,180.1L231.1,181.7L231.2,183.2L231.2,184.7L231.3,186.2L231.3,187.7L231.4,189.2L231.4,190.7L231.4,192.2L231.5,193.7L231.5,195.2L231.6,196.7L231.6,198.2L231.7,199.7L231.7,201.2L231.8,202.7L231.9,204.2L232.0,205.7L232.1,207.2L232.2,208.7L232.4,210.2L232.6,211.7L232.8,213.2L233.1,214.7L233.3,216.2L233.6,217.7L233.8,219.2L234.1,220.7L234.4,222.1L234.6,223.6L234.9,225.1L235.1,226.6L235.4,228.1L235.7,229.6L235.9,231.0L236.2,232.5L236.5,234.0L236.8,232.5L237.1,231.0L237.4,229.5L237.6,228.1L237.9,226.6L238.2,225.1L238.4,223.6L238.7,222.1L238.9,220.6L239.2,219.1L239.4,217.6L239.6,216.1L239.8,214.6L240.0,213.1L240.2,211.7L240.4,210.2L240.6,208.7L240.8,207.2L241.0,205.7L241.2,204.2L241.3,202.7L241.5,201.2L241.7,199.7L241.8,198.2L241.9,196.7L242.1,195.2L242.2,193.7L242.3,192.1L242.5,190.6L242.6,189.1L242.7,187.6L242.8,186.1L242.9,184.6L243.0,183.1L243.1,181.6L243.2,180.1L243.3,178.6L243.4,177.1L243.5,175.6L243.6,174.1L243.7,172.6L243.8,171.1L243.9,169.6L244.0,168.1L244.1,166.5L244.2,165.0L244.3,163.5L244.4,162.0L244.5,160.5L244.6,159.0L244.7,157.5L244.8,156.0L244.9,154.5L245.0,153.0L245.1,151.5L245.2,150.0L245.3,148.5L245.4,147.0L245.5,145.5L245.6,143.9L245.7,142.4L245.9,140.9L246.0,139.4L246.1,137.9L246.2,136.4L246.3,134.9L246.4,133.4L246.5,131.9L246.6,130.4L246.7,128.9L246.8,127.4L246.9,125.9L247.0,124.4L247.1,122.9L247.2,121.3L247.4,119.8L247.5,118.3L247.6,116.8L247.7,115.3L247.9,113.8L248.0,112.3L248.2,110.8L248.4,109.3L248.6,107.8L248.8,106.4L249.1,104.9L249.4,103.4L249.7,101.9L250.0,100.4L250.2,98.9L250.5,97.4L250.7,96.0L251.0,94.5L251.2,93.0L251.5,91.5L251.7,90.0L251.9,88.5L252.1,87.0L252.4,85.5L252.6,84.0L252.8,82.5L253.0,81.0L253.2,79.5L253.4,78.0L253.6,76.5L253.8,75.0L254.1,73.6L254.3,72.1L254.6,70.6L254.8,69.1L255.1,67.6L255.3,66.1L255.6,64.6L255.8,63.1L256.1,61.6L256.3,60.1L256.5,58.6L256.7,57.1L256.9,55.6L257.2,54.1L257.4,52.6L257.7,51.2L258.1,49.7L258.6,48.0L259.2,46.2L259.9,44.9L260.4,44.5L261.0,45.3L261.5,46.9L262.0,48.7L262.4,50.5L262.7,52.0L262.9,53.5L263.0,55.0L263.2,56.5L263.3,58.0L263.5,59.5L263.7,61.0L264.0,62.5L264.2,64.0L264.5,65.5L264.9,66.9L265.2,68.4L265.6,69.9L266.0,71.3L266.4,72.8L266.8,74.2L267.2,75.7L267.6,77.2L268.0,78.6L268.4,80.1L268.8,81.5L269.2,83.0L269.6,84.5L270.0,85.9L270.3,87.4L270.7,88.8L271.1,90.3L271.5,91.8L271.8,93.2L272.2,94.7L272.6,96.2L273.0,97.6L273.4,99.1L273.7,100.5L274.1,102.0L274.5,103.5L274.8,104.9L275.2,106.4L275.5,107.9L275.8,109.4L276.2,110.8L276.5,112.3L276.8,113.8L277.1,115.3L277.4,116.7L277.7,118.2L278.0,119.7L278.3,121.2L278.6,122.7L278.8,124.2L279.0,125.7L279.1,127.2L279.2,128.7L279.4,130.2L279.5,131.7L279.6,133.2L279.7,134.7L279.8,136.2L279.9,137.7L280.0,139.2L280.1,140.7L280.2,142.2L280.2,143.7L280.3,145.2L280.4,146.7L280.5,148.2L280.5,149.7L280.6,151.2L280.7,152.8L280.7,154.3L280.8,155.8L280.9,157.3L280.9,158.8L281.0,160.3L281.1,161.8L281.1,163.3L281.2,164.8L281.3,166.4L281.4,167.9L281.5,169.4L281.6,170.9L281.6,172.4L281.7,173.9L281.8,175.4L281.9,176.9L282.0,178.4L282.1,179.9L282.2,181.4L282.3,182.9L282.4,184.4L282.5,185.9L282.6,187.5L282.7,189.0L282.8,190.5L282.9,192.0L283.0,193.5L283.1,195.0L283.2,196.5L283.3,198.0L283.5,196.5L283.7,195.0L284.0,193.5L284.2,192.0L284.4,190.5L284.6,189.0L284.9,187.6L285.1,186.1L285.3,184.6L285.5,183.1L285.8,181.6L286.0,180.1L286.2,178.6L286.4,177.1L286.7,175.6L286.9,174.1L287.2,172.6L287.4,171.1L287.6,169.6L287.9,168.2L288.1,166.7L288.3,165.2L288.5,163.7L288.7,162.2L288.9,160.7L289.1,159.2L289.3,157.7L289.4,156.2L289.6,154.7L289.7,153.2L289.9,151.7L290.0,150.2L290.1,148.7L290.3,147.2L290.4,145.7L290.5,144.1L290.6,142.6L290.8,141.1L290.9,139.6L291.1,138.1L291.2,136.6L291.4,135.1L291.5,133.6L291.7,132.1L291.9,130.6L292.1,129.2L292.3,127.7L292.6,126.2L292.8,124.7L293.1,123.2L293.4,121.7L293.7,120.2L294.0,118.8L294.3,117.3L294.7,115.8L295.0,114.3L295.3,112.9L295.7,111.4L296.0,109.9L296.4,108.5L296.7,107.0L297.1,105.5L297.5,104.1L297.9,102.6L298.3,101.2L298.8,99.7L299.2,98.3L299.7,96.8L300.2,95.4L300.7,94.0L301.3,92.6L301.9,91.2L302.5,89.8L303.1,88.4L303.8,87.1L304.5,85.8L305.3,84.5L306.1,83.2L307.0,81.9L308.0,80.8L309.0,79.7L310.1,78.7L311.3,77.7L312.5,76.8L313.8,76.0L315.2,75.3L316.6,74.8L318.0,74.3L319.5,73.9L321.0,73.6L322.5,73.5L324.0,73.6L325.5,73.9L327.0,74.3L328.4,74.7L329.9,75.1L331.3,75.6L332.7,76.1L334.0,76.8L335.4,77.5L336.7,78.3L338.0,79.2L339.3,80.1L340.5,81.1L341.6,82.1L342.6,83.1L343.5,84.2L344.4,85.4L345.2,86.6L346.0,87.9L346.8,89.3L347.5,90.6L348.3,92.0L349.1,93.3L349.9,94.6L350.7,95.8L351.6,97.1L352.5,98.3L353.4,99.6L354.2,100.8L355.0,102.1L355.7,103.4L356.3,104.8L356.9,106.1L357.5,107.5L358.1,108.9L358.6,110.3L359.1,111.7L359.6,113.2L360.1,114.6L360.5,116.1L361.0,117.5L361.4,119.0L361.8,120.4L362.3,121.9L362.7,123.4L363.1,124.8L363.4,126.3L363.8,127.7L364.2,129.2L364.6,130.7L364.9,132.1L365.3,133.6L365.6,135.1L366.0,136.5L366.3,138.0L366.6,139.5L367.0,141.0L367.3,142.4L367.6,143.9L367.9,145.4L368.2,146.9L368.5,148.4L368.8,149.8L369.0,151.3L369.3,152.8L369.6,154.3L369.8,155.8L370.1,157.3L370.3,158.8L370.6,160.2L370.8,161.7L371.0,163.2L371.2,164.7L371.5,166.2L371.7,167.7L371.9,169.2L372.1,170.7L372.3,172.2L372.5,173.7L372.7,175.2L372.9,176.7L373.1,178.2L373.4,179.7L373.6,181.2L373.8,182.7L374.0,184.2L374.3,185.6L374.5,187.1L374.7,188.6L374.9,190.1L375.1,191.6L375.4,193.1L375.6,194.6L375.9,196.1L376.1,197.6L376.4,199.1L376.7,200.5L377.0,202.0L377.3,203.5L377.7,205.0L378.0,206.4L378.3,207.9L378.7,209.4L379.1,210.8L379.5,212.3L379.9,213.7L380.3,215.2L380.7,216.7L381.1,218.1L381.6,219.6L382.0,221.0L382.1,219.5L382.2,218.0L382.3,216.4L382.5,214.9L382.7,213.4L382.9,211.9L383.1,210.4L383.3,208.9L383.5,207.4L383.8,205.9L384.0,204.5L384.3,203.0L384.5,201.5L384.8,200.0L385.1,198.6L385.4,197.1L385.7,195.6L386.1,194.2L386.5,192.7L387.0,191.3L387.4,189.8L387.9,188.4L388.4,187.0L388.9,185.5L389.4,184.1L389.9,182.7L390.4,181.2L390.9,179.8L391.4,178.4L391.8,176.9L392.3,175.5L392.8,174.0L393.2,172.6L393.7,171.2L394.2,169.8L394.7,168.3L395.2,166.9L395.7,165.5L396.2,164.0L396.7,162.6L397.2,161.2L397.7,159.8L398.1,158.3L398.6,156.9L399.1,155.5L399.6,154.0L400.0,152.6L400.5,151.1L400.9,149.7L401.4,148.3L401.8,146.8L402.2,145.4L402.6,143.9L403.1,142.5L403.5,141.0L403.9,139.5L404.3,138.1L404.7,136.6L405.1,135.2L405.5,133.7L405.9,132.3L406.4,130.8L406.8,129.4L407.2,127.9L407.7,126.5L408.1,125.0L408.5,123.6L409.0,122.1L409.4,120.7L409.9,119.3L410.3,117.8L410.8,116.4L411.2,114.9L411.7,113.5L412.2,112.1L412.6,110.6L413.1,109.2L413.6,107.8L414.1,106.3L414.6,104.9L415.1,103.5L415.6,102.0L416.1,100.6L416.6,99.2L417.2,97.8L417.8,96.4L418.5,95.0L419.2,93.6L420.0,92.1L420.9,90.9L421.9,90.0L423.2,89.5L424.8,89.1L426.2,89.0L427.5,89.6L428.6,90.9L429.6,92.3L430.3,93.5L430.9,94.8L431.5,96.2L432.0,97.6L432.5,99.1L432.9,100.6L433.3,102.1L433.7,103.6L434.0,105.1L434.3,106.6L434.7,108.0L434.9,109.5L435.2,111.0L435.5,112.5L435.7,114.0L436.0,115.4L436.2,116.9L436.5,118.4L436.7,119.9L436.9,121.4L437.1,123.0L437.3,124.5L437.5,126.0L437.7,127.5L437.9,129.0L438.1,130.5L438.2,132.0L438.4,133.5L438.6,135.0L438.8,136.5L439.0,138.0L439.1,139.5L439.3,141.0L439.4,142.5L439.6,144.0L439.8,145.5L439.9,147.0L440.1,148.5L440.2,150.0L440.3,151.5L440.5,153.0L440.6,154.5L440.7,156.0L440.8,157.5L440.9,159.0L441.0,160.5L441.1,162.0L441.2,163.5L441.3,165.0L441.4,166.5L441.5,168.1L441.6,169.6L441.7,171.1L441.7,172.6L441.8,174.1L441.9,175.6L442.0,177.1L442.0,178.6L442.1,180.1L442.2,181.6L442.2,183.1L442.3,184.7L442.4,186.2L442.4,187.7L442.5,189.2L442.5,190.7L442.6,192.2L442.6,193.7L442.7,195.2L442.7,196.7L442.8,198.2L442.8,199.8L442.9,201.3L442.9,202.8L443.0,204.3L443.0,205.8L443.1,207.3L443.1,208.8L443.2,210.3L443.2,211.8L443.2,213.3L443.3,214.9L443.3,216.4L443.4,217.9L443.4,219.4L443.4,220.9L443.5,222.4L443.5,223.9L443.5,225.4L443.6,226.9L443.6,228.4L443.6,230.0L443.6,231.5L443.7,233.0L443.7,234.5L443.7,236.0L443.8,234.5L444.0,233.0L444.1,231.5L444.3,230.0L444.4,228.5L444.6,227.0L444.8,225.5L444.9,224.0L445.1,222.5L445.3,221.0L445.4,219.5L445.6,218.0L445.8,216.5L446.0,215.0L446.2,213.5L446.4,212.0L446.6,210.5L446.8,209.1L447.1,207.6L447.3,206.1L447.5,204.6L447.8,203.1L448.0,201.6L448.2,200.1L448.5,198.6L448.7,197.1L448.9,195.6L449.1,194.2L449.3,192.7L449.5,191.2L449.7,189.7L449.9,188.2L450.1,186.7L450.3,185.2L450.4,183.7L450.6,182.2L450.8,180.7L451.0,179.2L451.2,177.7L451.4,176.2L451.6,174.7L451.9,173.2L452.1,171.7L452.3,170.2L452.5,168.7L452.7,167.2L452.9,165.6L453.1,164.1L453.4,162.6L453.6,161.1L453.9,159.6L454.2,158.1L454.5,156.7L454.9,155.3L455.3,153.9L455.8,152.5L456.4,151.1L457.3,149.8L458.3,148.6L459.3,147.7L460.5,146.8L461.8,145.9L463.3,145.2L464.8,144.5L466.2,144.1L467.6,144.0L469.0,144.2L470.4,144.8L471.8,145.6L473.1,146.5L474.4,147.5L475.5,148.5L476.5,149.5L477.5,150.6L478.4,151.8L479.2,153.0L480.1,154.3L480.8,155.7L481.6,157.1L482.3,158.5L482.9,159.8L483.6,161.2L484.2,162.5L484.8,163.9L485.4,165.3L486.0,166.7L486.5,168.1L487.0,169.5L487.5,170.9L488.0,172.4L488.5,173.8L489.0,175.3L489.4,176.7L489.9,178.1L490.4,179.6L490.8,181.0L491.3,182.5L491.7,183.9L492.1,185.3L492.5,186.8L493.0,188.2L493.4,189.7L493.8,191.1L494.2,192.6L494.6,194.1L495.0,195.5L495.4,197.0L495.7,198.4L496.1,199.9L496.5,201.4L496.8,202.8L497.2,204.3L497.5,205.8L497.8,207.2L498.2,208.7L498.5,210.2L498.8,211.6L499.1,213.1L499.4,214.6L499.6,216.1L499.9,217.6L500.2,219.0L500.5,220.5L500.7,222.0L501.0,223.5L501.3,225.0L501.5,226.5L501.8,228.0L502.0,229.4L502.3,230.9L502.5,232.4L502.8,233.9L503.1,235.4L503.3,236.9L503.6,238.4L503.9,239.8L504.2,241.3L504.5,242.8L504.7,244.3L505.0,245.8L505.2,247.3L505.4,248.8L505.6,250.2L505.8,251.7L505.9,253.2L506.1,254.7L506.2,256.2L506.3,257.7L506.4,259.2L506.6,260.7L506.7,262.2L506.8,263.7L506.9,265.3L507.0,266.8L507.1,268.3L507.2,269.8L507.3,271.3L507.4,272.8L507.5,274.3L507.6,275.8L507.7,277.3L507.8,278.8L507.8,280.3L507.9,281.8L508.0,283.3L508.1,284.8L508.2,286.3L508.3,287.8L508.4,289.3L508.5,290.8L508.6,292.3L508.7,293.8L508.8,295.3L508.8,296.9L508.9,298.4L509.0,299.9L509.1,301.4L509.1,302.9L509.2,304.4L509.3,305.9L509.4,307.4L509.4,308.9L509.5,310.4L509.6,311.9L509.6,313.4L509.7,314.9L509.8,316.4L509.8,317.9L509.9,319.4L509.9,320.9L510.0,322.4L510.0,324.0L510.1,325.5L510.1,327.0L510.2,328.5L510.2,330.0L510.3,331.5L510.3,333.0L510.4,334.5L510.4,336.0L510.5,337.5L510.5,339.0L510.5,340.5L510.6,342.0L510.7,343.5L510.7,345.1L510.7,346.6L510.8,348.1L510.8,349.6L510.9,351.1L510.9,352.6L511.0,354.1L511.1,355.6L511.2,357.1L511.5,358.6L512.0,360.0L512.6,358.6L513.0,357.1L513.1,355.6L513.1,354.1L513.2,352.6L513.2,351.1L513.3,349.6L513.3,348.1L513.3,346.5L513.3,345.0L513.4,343.5L513.4,341.9L513.4,340.4L513.5,338.9L513.5,337.4L513.5,335.9L513.6,334.3L513.6,332.8L513.6,331.3L513.7,329.8L513.7,328.3L513.7,326.7L513.8,325.2L513.8,323.7L513.8,322.2L513.9,320.7L513.9,319.2L514.0,317.6L514.0,316.1L514.1,314.6L514.1,313.1L514.2,311.6L514.3,310.0L514.3,308.5L514.4,307.0L514.5,305.5L514.6,304.0L514.7,302.5L514.7,300.9L514.8,299.4L514.9,297.9L515.0,296.4L515.1,294.9L515.2,293.4L515.4,291.8L515.5,290.3L515.6,288.8L515.8,287.3L515.9,285.8L516.1,284.3L516.3,282.8L516.5,281.3L516.7,279.8L516.9,278.3L517.2,276.8L517.4,275.3L517.7,273.8L517.9,272.3L518.1,270.8L518.3,269.3L518.5,267.8L518.7,266.2L518.9,264.7L519.1,263.2L519.3,261.7L519.5,260.2L519.7,258.7L519.9,257.2L520.1,255.7L520.3,254.2L520.5,252.7L520.7,251.2L521.0,249.7L521.2,248.2L521.4,246.7L521.6,245.2L521.9,243.7L522.1,242.2L522.4,240.7L522.7,239.2L522.9,237.7L523.2,236.2L523.5,234.7L523.8,233.2L524.1,231.7L524.4,230.2L524.7,228.8L525.1,227.3L525.4,225.8L525.7,224.3L526.1,222.8L526.4,221.3L526.7,219.9L527.1,218.4L527.4,216.9L527.8,215.4L528.1,213.9L528.5,212.5L528.9,211.0" stroke-dasharray="7.2 2.9 1.6 2.9" stroke-width="1.4"/>
</g>
<path d="M87.6,370.2V17.4H528.7V370.2" fill="none" stroke="#222" stroke-width="1.3"/>
<path d="M81.1,370.2H529.3000000000001" fill="none" stroke="#222" stroke-width="1.5"/>
<path d="M87.6,370.2v6.2M119.1,370.2v3.2M150.6,370.2v6.2M182.1,370.2v3.2M213.6,370.2v6.2M245.1,370.2v3.2M276.6,370.2v6.2M308.1,370.2v3.2M339.7,370.2v6.2M371.2,370.2v3.2M402.7,370.2v6.2M434.2,370.2v3.2M465.7,370.2v6.2M497.2,370.2v3.2M528.7,370.2v6.2" stroke="#222" stroke-width="1.3" fill="none"/>
<g font-family="'Liberation Serif', serif" font-weight="bold" font-size="18.6px" fill="#111">
<text transform="translate(87.6,397.3) scale(1.06,1)" text-anchor="middle">0</text>
<text transform="translate(150.6,397.3) scale(1.06,1)" text-anchor="middle">2</text>
<text transform="translate(213.6,397.3) scale(1.06,1)" text-anchor="middle">4</text>
<text transform="translate(276.6,397.3) scale(1.06,1)" text-anchor="middle">6</text>
<text transform="translate(339.7,397.3) scale(1.06,1)" text-anchor="middle">8</text>
<text transform="translate(402.7,397.3) scale(1.06,1)" text-anchor="middle">10</text>
<text transform="translate(465.7,397.3) scale(1.06,1)" text-anchor="middle">12</text>
<text transform="translate(528.7,397.3) scale(1.06,1)" text-anchor="middle">14</text>
<text transform="translate(77,23.7) scale(1.06,1)" text-anchor="end">0</text>
<text transform="translate(77,94.3) scale(1.06,1)" text-anchor="end">-10</text>
<text transform="translate(77,164.8) scale(1.06,1)" text-anchor="end">-20</text>
<text transform="translate(77,235.4) scale(1.06,1)" text-anchor="end">-30</text>
<text transform="translate(77,305.9) scale(1.06,1)" text-anchor="end">-40</text>
<text transform="translate(77,376.5) scale(1.06,1)" text-anchor="end">-50</text>
</g>
<text x="308.8" y="434.3" text-anchor="middle" font-family="'Liberation Serif', serif" font-weight="bold" font-size="21.5px" fill="#111" textLength="167" lengthAdjust="spacingAndGlyphs">Frequency(GHz)</text>
<text transform="translate(30.7,185.8) rotate(-90)" text-anchor="middle" font-family="'Liberation Serif', serif" font-weight="bold" font-size="21.5px" fill="#111" textLength="181.5" lengthAdjust="spacingAndGlyphs">S-Parameters(dB)</text>
<g stroke="#222" fill="none">
<path d="M228,291.7H265" stroke-width="1.5" stroke-dasharray="1.1 1.2"/>
<path d="M228,320H265" stroke-width="1.4"/>
<path d="M228,349.7H266.5" stroke-width="1.3" stroke-dasharray="8.5 4 2 4"/>
</g>
<g font-family="'Liberation Serif', serif" font-size="19px" fill="#111">
<text x="274.6" y="297.9" textLength="51" lengthAdjust="spacingAndGlyphs">α=0.3</text>
<text x="274.6" y="326.7" textLength="51" lengthAdjust="spacingAndGlyphs">α=0.6</text>
<text x="274.6" y="356" textLength="51" lengthAdjust="spacingAndGlyphs">α=0.8</text>
</g>
<g fill="none" stroke="#111" stroke-width="2.6">
<ellipse cx="122.4" cy="103.3" rx="23.2" ry="11.6" pathLength="120" stroke-dasharray="10.6 9.4" stroke-dashoffset="5.3"/>
<ellipse cx="190.5" cy="241.3" rx="35.8" ry="19.9" pathLength="100" stroke-dasharray="5.6 4.4" stroke-dashoffset="0.3"/>
</g>
<g stroke="#111" stroke-width="1.9" fill="#111">
<path d="M133.5,117.5V160" fill="none"/><path d="M133.5,167.8l-4.5,-9.3h9z" stroke="none"/>
<path d="M164.4,259.3L147,275.8" fill="none"/><path d="M140.6,282l3.6,-9.6l6.2,6.4z" stroke="none"/>
</g>
<g font-family="'Liberation Sans', sans-serif" font-weight="bold" fill="#111" stroke="#111" stroke-width="0.5">
<text transform="translate(120.4,187.3) scale(0.84,1)" font-size="25px">S</text><text x="134.2" y="186.9" font-size="14.6px" textLength="16.8" lengthAdjust="spacingAndGlyphs">21</text>
<text transform="translate(124.8,299.8) scale(0.84,1)" font-size="25px">S</text><text x="139.8" y="299.5" font-size="14.6px" textLength="14.4" lengthAdjust="spacingAndGlyphs">11</text>
</g>
</svg></body></html>
